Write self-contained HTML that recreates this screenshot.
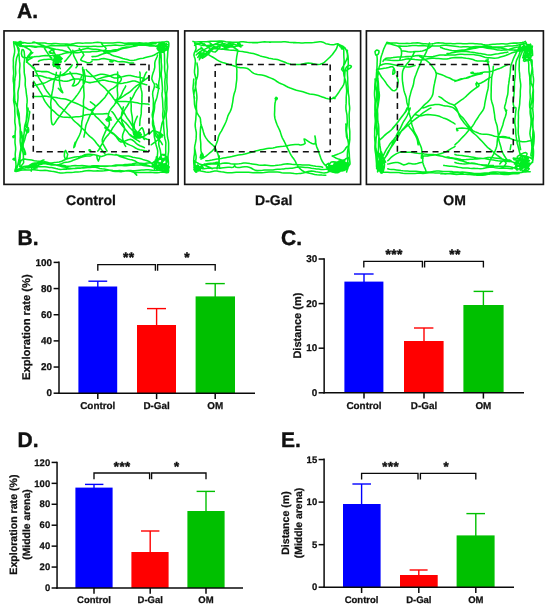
<!DOCTYPE html>
<html lang="en">
<head>
<meta charset="utf-8">
<title>Open field test figure</title>
<style>
html,body{margin:0;padding:0;background:#fff;}
body{width:550px;height:609px;overflow:hidden;}
svg{display:block;}
svg text{font-family:"Liberation Sans", sans-serif;font-weight:bold;fill:#111;stroke:#111;stroke-width:0.25px;text-rendering:geometricPrecision;}
</style>
</head>
<body>
<svg width="550" height="609" viewBox="0 0 550 609">
<rect x="0" y="0" width="550" height="609" fill="#ffffff"/>
<g id="panelA">
<path d="M13.6,41.9 L15.4,42.1 L18.0,42.4 L20.7,42.5 L22.8,42.6 L25.0,42.8 L27.3,43.2 L29.5,43.3 L31.7,43.1 L33.9,42.8 L36.1,42.8 L38.3,42.9 L40.5,42.9 L42.7,42.9 L44.9,43.1 L47.1,43.5 L49.3,43.8 L51.5,43.8 L53.7,43.6 L55.9,43.5 L58.1,43.7 L60.3,43.9 L62.5,44.0 L64.7,44.1 L66.9,44.1 L69.1,44.2 L71.3,44.1 L73.5,43.7 L75.6,43.3 L77.8,43.0 L80.0,43.1 L82.3,43.2 L84.5,43.1 L86.7,42.9 L88.9,42.9 L91.1,42.9 L93.2,42.8 L95.4,42.5 L97.6,42.3 L99.8,42.5 L102.0,42.8 L104.2,43.0 L106.4,43.0 L108.6,42.9 L110.8,42.9 L113.0,42.9 L115.2,42.7 L117.4,42.5 L119.6,42.5 L121.8,42.8 L124.0,43.2 L126.2,43.2 L128.4,43.0 L130.6,42.9 L132.8,42.9 L135.0,42.9 L137.2,42.9 L139.4,42.8 L141.6,43.0 L143.8,43.3 L146.0,43.4 L148.2,43.2 L150.4,42.8 L152.6,42.5 L154.8,42.5 L157.1,42.4 L159.3,42.2 L161.4,42.1 L164.2,41.9 L166.8,41.6 L168.3,41.8 L168.9,43.3 L168.8,46.0 L168.2,48.8 L167.9,50.9 L167.7,53.2 L167.6,55.5 L167.4,57.8 L167.1,60.0 L167.2,62.2 L167.5,64.5 L167.7,66.7 L167.5,69.0 L167.2,71.2 L167.0,73.5 L167.0,75.7 L167.0,77.9 L166.9,80.2 L166.9,82.4 L167.1,84.7 L167.3,86.9 L167.3,89.2 L166.9,91.4 L166.6,93.6 L166.6,95.9 L166.8,98.1 L166.8,100.4 L166.8,102.6 L166.8,104.9 L166.9,107.1 L166.9,109.4 L166.6,111.6 L166.2,113.8 L166.1,116.1 L166.3,118.3 L166.5,120.6 L166.6,122.8 L166.7,125.0 L166.9,127.3 L167.2,129.5 L167.3,131.8 L167.2,134.0 L167.4,136.3 L167.8,138.5 L168.3,140.7 L168.6,143.0 L168.6,145.2 L168.6,147.5 L168.6,149.7 L168.5,152.0 L168.2,154.2 L168.0,156.4 L168.1,158.7 L168.3,161.1 L168.5,163.3 L168.3,165.4 L168.3,168.2 L168.7,170.7 L168.3,172.4 L166.6,172.8 L164.2,172.2 L161.4,172.0 L159.3,172.4 L157.1,172.7 L154.9,172.7 L152.6,172.4 L150.4,172.3 L148.2,172.4 L146.0,172.6 L143.8,172.5 L141.6,172.5 L139.4,172.5 L137.2,172.6 L135.0,172.4 L132.8,171.9 L130.7,171.3 L128.5,170.9 L126.2,170.9 L124.0,170.9 L121.8,170.7 L119.6,170.6 L117.4,170.7 L115.2,170.7 L113.0,170.6 L110.8,170.3 L108.6,170.2 L106.4,170.4 L104.2,170.7 L102.0,170.9 L99.8,170.9 L97.6,170.8 L95.4,170.9 L93.3,170.9 L91.0,170.7 L88.8,170.6 L86.6,170.7 L84.5,171.1 L82.3,171.6 L80.1,171.8 L77.9,171.9 L75.7,172.1 L73.5,172.3 L71.3,172.4 L69.0,172.4 L66.9,172.4 L64.7,172.7 L62.5,172.9 L60.2,172.9 L58.0,172.5 L55.9,172.0 L53.7,171.6 L51.5,171.3 L49.3,170.9 L47.1,170.5 L44.9,170.3 L42.7,170.4 L40.5,170.4 L38.3,170.3 L36.1,169.9 L33.9,169.7 L31.7,169.7 L29.5,169.9 L27.2,169.9 L24.9,169.8 L22.7,170.0 L20.7,170.3 L18.3,171.0 L16.1,171.5 L14.9,171.3 L15.0,170.2 L15.7,168.0 L16.0,165.4 L15.9,163.4 L15.7,161.1 L15.5,158.8 L15.3,156.5 L15.2,154.2 L15.4,152.0 L15.7,149.7 L15.6,147.5 L15.3,145.2 L15.0,143.0 L15.0,140.7 L15.1,138.5 L15.1,136.3 L15.1,134.0 L15.2,131.8 L15.5,129.5 L15.5,127.3 L15.3,125.0 L14.9,122.8 L14.8,120.6 L14.9,118.3 L15.0,116.1 L14.9,113.8 L14.8,111.6 L14.8,109.3 L14.7,107.1 L14.4,104.8 L13.9,102.6 L13.6,100.4 L13.7,98.1 L13.9,95.9 L14.0,93.6 L13.9,91.4 L13.8,89.2 L13.8,86.9 L13.8,84.7 L13.5,82.4 L13.2,80.2 L13.2,77.9 L13.5,75.7 L13.7,73.5 L13.6,71.2 L13.4,69.0 L13.3,66.7 L13.4,64.5 L13.4,62.2 L13.3,60.0 L13.5,57.7 L14.0,55.5 L14.5,53.2 L14.7,50.9 L14.6,48.8 L14.1,46.1 L13.8,43.7 L13.6,41.9 M15.1,43.6 L16.5,44.1 L18.5,45.0 L20.7,45.9 L22.6,46.4 L24.9,46.6 L27.2,46.4 L29.5,46.1 L31.7,46.0 L33.9,46.2 L36.1,46.4 L38.3,46.5 L40.5,46.5 L42.7,46.5 L44.9,46.6 L47.1,46.5 L49.3,46.0 L51.5,45.6 L53.7,45.6 L55.9,45.7 L58.1,45.8 L60.3,45.8 L62.5,45.7 L64.7,45.7 L66.9,45.8 L69.1,45.6 L71.3,45.4 L73.5,45.4 L75.7,45.8 L77.8,46.3 L80.0,46.5 L82.2,46.5 L84.5,46.5 L86.7,46.6 L88.9,46.6 L91.0,46.4 L93.2,46.2 L95.4,46.3 L97.7,46.5 L99.9,46.6 L102.1,46.4 L104.2,46.0 L106.4,45.7 L108.6,45.5 L110.8,45.4 L113.0,45.2 L115.2,45.1 L117.4,45.3 L119.6,45.5 L121.8,45.5 L124.0,45.2 L126.2,44.8 L128.4,44.6 L130.6,44.6 L132.8,44.5 L135.0,44.3 L137.2,44.2 L139.4,44.3 L141.6,44.4 L143.8,44.3 L146.0,44.2 L148.3,44.2 L150.5,44.7 L152.6,45.3 L154.9,46.0 L157.3,46.7 L159.5,47.5 L161.5,47.8 L164.1,46.3 L165.1,45.1 L163.7,46.4 L161.5,48.9 L161.0,50.7 L160.9,53.0 L161.1,55.4 L161.2,57.8 L161.2,60.0 L161.2,62.2 L161.5,64.5 L161.7,66.7 L161.6,69.0 L161.4,71.2 L161.2,73.5 L161.3,75.7 L161.6,77.9 L161.8,80.2 L162.0,82.4 L162.2,84.7 L162.4,86.9 L162.5,89.1 L162.3,91.4 L162.0,93.7 L162.0,95.9 L162.4,98.1 L162.6,100.4 L162.7,102.6 L162.8,104.9 L162.9,107.1 L163.1,109.3 L163.0,111.6 L162.7,113.8 L162.7,116.1 L163.0,118.3 L163.4,120.5 L163.6,122.8 L163.6,125.0 L163.7,127.3 L163.9,129.5 L164.1,131.8 L164.3,134.0 L164.5,136.3 L164.9,138.5 L165.5,140.7 L165.9,143.0 L165.8,145.2 L165.7,147.5 L165.7,149.7 L165.8,152.0 L165.7,154.2 L165.7,156.4 L165.8,158.8 L166.1,161.1 L166.4,163.3 L166.4,165.4 L166.7,168.0 L167.4,170.3 L167.4,171.5 L166.2,171.6 L164.0,170.9 L161.4,170.2 L159.4,170.2 L157.2,170.4 L154.9,170.5 L152.6,170.3 L150.4,169.9 L148.2,169.7 L146.0,169.8 L143.8,170.0 L141.6,170.1 L139.4,170.2 L137.2,170.4 L135.0,170.7 L132.8,170.7 L130.6,170.6 L128.4,170.5 L126.2,170.8 L124.0,171.2 L121.8,171.6 L119.6,171.6 L117.4,171.5 L115.2,171.4 L113.0,171.2 L110.8,170.6 L108.7,170.0 L106.5,169.4 L104.3,169.1 L102.0,168.8 L99.8,168.4 L97.6,167.8 L95.4,167.3 L93.2,167.1 L91.1,166.9 L88.8,166.7 L86.6,166.8 L84.4,167.2 L82.3,167.7 L80.1,168.2 L77.9,168.3 L75.7,168.4 L73.4,168.5 L71.3,168.8 L69.1,169.0 L66.9,169.1 L64.7,169.1 L62.5,169.3 L60.2,169.4 L58.0,169.1 L55.9,168.6 L53.7,168.0 L51.5,167.6 L49.3,167.4 L47.1,167.1 L44.9,166.8 L42.7,166.7 L40.5,166.7 L38.3,166.7 L36.1,166.6 L33.9,166.4 L31.6,166.5 L29.5,167.0 L27.2,167.5 L24.9,167.9 L22.7,168.2 L20.7,168.7 L18.4,169.9 L16.2,170.9 L15.1,171.1 L15.6,170.1 L17.0,168.1 L17.8,165.4 L18.1,163.4 L18.6,161.1 L19.1,158.7 L19.5,156.4 L19.8,154.2 L20.2,152.0 L20.7,149.7 L20.9,147.5 L20.6,145.2 L20.3,143.0 L20.1,140.8 L20.2,138.5 L20.3,136.3 L20.2,134.0 L20.1,131.8 L20.2,129.5 L20.2,127.3 L20.1,125.0 L19.7,122.8 L19.4,120.6 L19.4,118.3 L19.3,116.1 L19.1,113.8 L18.5,111.6 L17.9,109.3 L17.2,107.1 L16.4,104.8 L15.5,102.7 L14.9,100.4 L14.7,98.2 L14.7,95.9 L14.6,93.6 L14.4,91.4 L14.4,89.2 L14.5,86.9 L14.6,84.7 L14.6,82.4 L14.7,80.2 L15.0,77.9 L15.5,75.7 L15.8,73.5 L15.7,71.2 L15.5,69.0 L15.5,66.7 L15.8,64.5 L16.0,62.2 L16.3,60.0 L16.7,57.7 L17.6,55.5 L18.6,53.1 L19.1,50.8 L19.0,48.8 L17.8,46.7 L16.2,44.9 L15.1,43.6 M15.0,43.5 L16.5,44.2 L18.9,44.9 L21.7,45.5 L23.5,45.8 L25.6,45.9 L27.9,46.0 L30.1,46.3 L32.3,46.8 L34.4,47.1 L36.6,47.1 L38.7,46.8 L40.9,46.8 L43.0,47.0 L45.1,47.2 L47.3,47.4 L49.4,47.7 L51.5,48.2 L53.6,48.8 L55.7,49.3 L57.9,49.6 L60.1,49.9 L62.3,50.3 L64.4,50.9 L66.5,51.5 L68.6,51.9 L70.8,52.2 L72.9,52.5 L75.0,52.8 L77.2,52.8 L79.3,52.4 L81.4,52.0 L83.6,51.9 L85.7,52.0 L87.9,52.0 L90.0,51.9 L92.1,51.6 L94.3,51.5 L96.4,51.4 L98.5,51.2 L100.7,50.8 L102.8,50.6 L104.9,50.6 L107.1,50.8 L109.2,50.8 L111.4,50.5 L113.5,50.1 L115.6,49.7 L117.8,49.4 L119.9,48.8 L121.9,48.1 L124.1,47.4 L126.3,47.1 L128.5,47.0 L130.6,46.7 L132.7,46.2 L134.8,45.6 L137.0,45.3 L139.1,45.2 L141.2,45.1 L143.4,45.1 L145.5,45.2 L147.6,45.6 L149.8,45.9 L152.0,46.1 L154.3,45.9 L156.6,45.9 L158.6,46.0 L160.4,46.0 L163.0,45.2 L165.1,44.0 L166.3,43.8 L165.9,45.1 L164.6,47.1 L163.8,50.0 L164.0,52.0 L164.4,54.2 L164.5,56.6 L164.5,59.1 L164.6,61.4 L164.7,63.7 L164.6,66.0 L164.6,68.3 L164.7,70.6 L165.1,72.8 L165.4,75.1 L165.3,77.4 L165.0,79.7 L164.8,82.0 L164.9,84.3 L165.0,86.5 L165.0,88.8 L165.0,91.1 L165.3,93.4 L165.6,95.7 L165.5,98.0 L165.3,100.3 L165.1,102.5 L165.1,104.8 L165.2,107.1 L165.1,109.4 L164.8,111.7 L164.6,114.0 L164.4,116.3 L163.9,118.6 L163.0,120.8 L162.1,123.0 L161.6,125.3 L161.2,127.7 L160.8,130.0 L160.3,132.2 L159.9,134.5 L159.6,136.8 L159.2,139.1 L158.9,141.4 L158.7,143.7 L159.0,146.0 L159.7,148.2 L160.3,150.4 L160.6,152.7 L160.9,155.1 L161.3,157.6 L161.8,160.0 L162.1,162.3 L162.6,164.3 L164.4,167.1 L166.3,169.2 L166.8,170.9 L165.3,170.5 L163.2,168.8 L160.5,167.4 L158.6,167.0 L156.5,166.6 L154.3,166.3 L152.0,166.1 L149.8,166.2 L147.6,166.1 L145.5,165.8 L143.4,165.4 L141.3,165.0 L139.1,164.9 L137.0,165.0 L134.8,165.1 L132.7,165.1 L130.6,165.3 L128.4,165.6 L126.3,165.8 L124.2,165.8 L122.0,165.5 L119.9,165.4 L117.7,165.6 L115.6,165.9 L113.5,166.0 L111.3,166.0 L109.2,166.1 L107.1,166.3 L104.9,166.4 L102.8,166.3 L100.6,166.1 L98.5,166.1 L96.4,166.5 L94.3,167.0 L92.1,167.3 L90.0,167.4 L87.9,167.6 L85.7,167.8 L83.6,168.0 L81.4,168.0 L79.3,167.9 L77.2,167.9 L75.0,168.2 L72.9,168.4 L70.7,168.3 L68.6,167.9 L66.5,167.4 L64.4,167.1 L62.2,166.7 L60.1,166.1 L58.0,165.4 L55.8,165.1 L53.6,165.0 L51.5,164.9 L49.4,164.5 L47.3,163.9 L45.1,163.6 L43.0,163.5 L40.9,163.7 L38.7,163.8 L36.6,164.1 L34.5,164.6 L32.4,165.3 L30.2,165.8 L27.9,166.0 L25.5,166.2 L23.4,166.6 L21.6,167.3 L18.9,168.9 L16.6,170.4 L15.3,170.9 L15.6,169.5 L16.9,167.0 L18.5,164.2 L19.3,162.3 L19.9,160.0 L20.1,157.6 L20.2,155.1 L20.5,152.8 L20.9,150.5 L21.1,148.2 L21.3,145.9 L21.7,143.6 L22.1,141.4 L22.1,139.1 L21.6,136.8 L21.1,134.5 L20.7,132.3 L20.5,130.0 L20.2,127.7 L19.7,125.4 L19.3,123.1 L19.1,120.7 L18.8,118.5 L18.2,116.2 L17.5,114.0 L17.3,111.7 L17.3,109.4 L17.3,107.1 L17.4,104.8 L17.5,102.5 L17.8,100.3 L18.0,98.0 L18.0,95.7 L17.9,93.4 L18.1,91.1 L18.6,88.8 L19.2,86.6 L19.4,84.3 L19.5,82.0 L19.7,79.7 L19.8,77.4 L19.8,75.1 L19.6,72.8 L19.5,70.6 L19.7,68.3 L19.9,66.0 L19.9,63.7 L19.5,61.4 L19.3,59.1 L19.2,56.6 L19.0,54.2 L18.7,52.0 L18.3,50.1 L17.5,47.2 L16.4,44.8 L15.0,43.5 M22.1,49.6 L21.7,51.2 L21.4,53.7 L22.0,56.1 L23.3,57.5 L24.7,57.7 L26.7,57.7 L29.1,57.6 L31.7,57.1 L34.3,56.7 L36.7,56.6 L39.0,56.5 L41.2,56.1 L43.5,55.7 L45.7,55.6 L48.0,55.7 L50.3,55.8 L52.6,55.6 L54.8,55.3 L57.1,55.0 L59.4,54.7 L61.6,54.2 L63.8,53.5 L65.7,53.0 L67.7,52.7 L69.7,52.5 L71.7,52.1 L73.6,51.6 L75.5,50.9 L77.5,50.4 L79.7,50.0 L82.0,49.5 L84.2,48.9 L86.5,48.5 L88.8,48.6 L91.0,48.9 L93.3,49.2 L95.6,49.3 L97.9,49.5 L100.1,50.1 L102.4,50.8 L104.7,51.4 L106.7,52.1 L108.5,53.0 L110.4,54.2 L112.2,55.2 L114.3,55.9 L116.3,56.4 L118.3,56.9 L120.6,57.7 L122.8,58.5 L125.0,59.1 L127.3,59.6 L129.5,60.2 L131.8,60.5 L134.1,60.3 L136.3,59.7 L138.5,59.0 L140.8,58.6 L143.2,58.2 L145.4,57.6 L147.4,57.1 L149.6,56.5 L151.7,56.0 L153.8,55.2 L155.7,54.2 L157.3,53.2 L158.8,52.4 L161.1,50.7 L163.0,48.7 L164.1,46.7 L164.5,45.6 L163.4,46.2 L161.4,48.3 L159.9,51.3 L159.8,53.1 L159.8,55.3 L159.6,57.7 L159.3,60.3 L159.3,62.8 L159.5,65.2 L159.6,67.6 L159.6,69.9 L159.7,72.2 L159.8,74.5 L159.8,76.9 L159.4,79.2 L159.0,81.2 L158.7,83.1 L158.7,85.1 L158.7,87.2 L158.5,89.2 L158.2,91.2 L157.8,93.2 L157.4,95.2 L157.0,97.2 L156.4,99.1 L155.6,101.1 L155.0,103.0 L154.6,105.1 L154.6,107.1 L154.4,109.1 L154.1,111.1 L153.6,113.1 L153.2,115.1 L153.0,117.1 L152.8,119.1 L152.6,121.1 L152.5,123.1 L152.6,125.1 L153.1,127.0 L153.7,129.0 L154.0,131.0 L154.1,133.0 L154.2,135.0 L154.4,137.0 L154.9,139.0 L155.3,141.0 L155.7,143.0 L156.1,145.0 L156.7,147.0 L157.3,148.9 L157.7,151.0 L157.6,153.2 L157.4,155.4 L157.4,157.6 L157.7,159.6 L158.0,161.4 L158.5,162.9 L160.3,165.6 L162.7,167.1 L163.5,167.6 L162.9,166.9 L161.5,164.6 L159.1,162.6 L157.3,162.3 L155.1,162.4 L152.8,162.7 L150.3,162.9 L147.8,163.0 L145.4,163.3 L143.2,163.4 L140.9,163.2 L138.6,163.0 L136.3,163.1 L134.1,163.5 L131.8,164.0 L129.6,164.2 L127.3,164.4 L125.0,164.6 L122.8,164.9 L120.5,165.0 L118.2,164.9 L115.9,165.0 L113.7,165.4 L111.5,165.9 L109.2,166.1 L106.9,166.0 L104.6,165.9 L102.4,165.9 L100.1,165.9 L97.8,165.8 L95.6,165.7 L93.3,165.8 L91.0,166.1 L88.8,166.3 L86.5,166.0 L84.3,165.7 L82.0,165.6 L79.7,165.7 L77.5,165.7 L75.2,165.6 L72.9,165.8 L70.7,166.1 L68.4,166.3 L66.1,166.1 L63.9,165.6 L61.6,165.3 L59.4,165.1 L57.1,165.1 L54.8,164.8 L52.5,164.5 L50.2,164.2 L47.9,163.9 L45.7,163.3 L43.5,162.4 L41.3,161.6 L39.0,161.2 L36.7,161.0 L34.3,160.7 L31.8,160.1 L29.2,159.7 L26.9,159.4 L24.8,159.1 L23.0,159.1 L21.0,160.6 L20.0,163.1 L19.8,165.4 L19.6,166.4 L21.2,166.0 L23.6,162.9 L23.6,161.5 L23.5,159.7 L23.4,157.6 L23.4,155.4 L23.1,153.2 L22.6,151.0 L22.2,149.0 L22.1,147.0 L22.4,145.0 L22.8,143.0 L23.0,141.0 L23.3,139.0 L23.5,137.0 L23.9,135.0 L24.2,133.1 L24.3,131.0 L24.4,129.0 L24.6,127.0 L25.0,125.0 L25.6,123.1 L26.1,121.1 L26.4,119.1 L26.5,117.1 L26.7,115.1 L26.9,113.1 L27.0,111.1 L26.9,109.1 L26.8,107.1 L26.8,104.8 L27.1,102.4 L27.2,100.1 L27.0,97.8 L26.6,95.5 L26.3,93.1 L26.1,91.2 L25.9,89.2 L25.5,87.2 L25.2,85.2 L25.2,83.2 L25.3,81.2 L25.3,79.2 L25.0,76.8 L24.5,74.5 L24.2,72.2 L24.2,69.9 L24.1,67.6 L24.0,65.2 L24.1,62.8 L24.5,60.1 L24.7,57.5 L24.5,55.0 L24.3,52.9 L24.1,51.4 L23.2,49.7 L22.1,49.6 M20.3,42.3 L20.5,44.5 L20.8,46.4 L21.0,45.1 L21.3,43.3 L23.0,42.9 L23.8,42.9 L21.7,42.7 L18.5,42.5 L16.6,42.5 L17.7,43.4 L20.0,44.2 L21.2,44.0 L21.6,43.4 L20.0,42.8 L18.5,42.2 L19.7,41.6 L21.0,41.6 L19.9,43.4 L18.6,45.1 L18.6,44.1 L18.9,43.0 L19.4,44.4 L19.7,46.2 M14.6,79.7 L14.1,80.9 L13.7,82.0 L13.8,81.5 L14.0,80.8 L13.9,81.1 L13.8,81.6 L14.2,81.2 L14.5,80.8 L13.8,81.1 L13.2,81.4 L13.7,81.5 L14.5,81.2 L14.8,80.5 L15.0,79.7 M32.8,42.2 L34.4,42.1 L36.4,43.0 L38.8,44.1 L41.3,44.9 L43.6,45.6 L45.5,46.4 L48.2,47.6 L50.3,48.6 L52.4,49.8 L54.2,52.2 L55.4,55.0 L56.8,56.6 M24.8,47.0 L26.9,48.1 L29.8,49.7 L31.3,51.8 L29.7,54.0 L27.7,56.4 L26.8,59.1 L26.6,61.3 L28.2,63.4 L30.5,65.2 L32.4,67.1 L33.6,68.6 M32.8,52.6 L31.1,53.8 L29.3,56.0 L28.0,58.2 L27.0,60.7 L26.5,62.2 L26.6,61.8 L27.9,60.5 L29.8,59.0 L32.5,57.6 L34.4,56.6 M38.4,61.4 L39.7,60.5 L41.9,59.9 L44.1,59.5 L46.0,59.4 L48.4,59.2 L50.5,59.3 L52.0,59.8 M58.4,61.9 L56.6,60.1 L55.0,58.2 L55.7,57.5 L57.2,57.9 L58.7,60.1 L59.2,62.2 L57.1,62.0 L54.2,61.2 L52.9,60.3 L54.3,59.9 L57.2,59.4 L60.1,58.9 L61.6,58.3 L60.5,57.2 L57.7,56.1 L56.1,55.7 L57.2,56.9 L59.4,58.8 L60.5,59.9 L59.2,58.8 L56.8,56.7 L55.4,55.5 L57.5,57.0 L60.2,58.6 L60.2,56.9 L58.9,55.3 L57.2,56.1 L55.0,57.7 L53.5,59.5 L53.3,62.0 L53.8,64.7 L54.4,66.2 L55.5,64.2 L56.3,60.8 L54.8,58.2 L53.9,56.3 L56.2,56.1 L59.5,56.5 L61.2,57.7 L60.5,59.2 L58.9,61.4 L56.9,63.7 L55.0,65.6 L53.8,66.5 L53.3,65.1 L53.5,62.0 L54.3,59.7 L56.4,59.6 L58.5,60.3 L58.5,60.7 L57.6,60.9 L55.7,59.4 L54.4,59.0 L54.8,60.5 L55.8,62.8 L57.0,65.3 L57.9,67.5 L58.2,68.6 L57.3,68.0 L55.4,66.2 L53.7,63.9 L53.1,62.3 L54.8,61.2 L57.8,60.5 L60.2,60.3 L61.2,61.5 L60.8,62.5 L58.4,60.3 L56.5,59.1 L56.8,60.5 L57.8,62.9 L59.0,65.6 L59.9,67.8 L60.3,68.6 L59.7,67.6 L58.5,65.2 L57.2,62.3 L56.0,59.6 L55.5,57.9 L57.8,58.0 L60.2,59.4 L58.7,59.1 L56.3,59.2 L54.7,61.2 L53.1,63.9 L52.9,65.1 L54.2,64.4 L56.6,62.7 L59.1,60.7 L61.3,59.1 L62.2,58.5 L61.6,59.2 L59.9,60.9 L57.7,62.9 L55.7,64.8 L54.3,66.1 M51.5,52.9 L50.0,52.5 L49.1,51.9 L51.2,50.6 L53.6,49.6 L53.9,50.1 L53.6,51.3 L53.4,52.6 L53.0,53.7 L52.5,53.6 L51.8,53.3 L50.7,53.2 L49.8,53.1 L49.9,52.5 L50.2,51.9 M72.8,50.2 L73.2,51.9 L73.4,54.3 L74.2,56.7 L75.4,58.9 L76.6,61.1 L77.5,63.0 L77.4,65.9 L76.0,67.8 M44.0,47.0 L44.7,48.8 L46.2,51.0 L47.6,53.1 L49.0,55.2 L50.4,57.3 L52.0,58.2 M92.0,56.6 L93.4,56.6 L95.4,56.5 L97.7,56.0 L100.0,55.0 L101.9,54.2 L104.1,53.6 L106.4,53.0 L108.8,52.3 L111.2,51.7 L113.3,51.5 L115.5,51.2 L117.6,50.6 L119.7,49.6 L121.7,48.7 L123.9,48.2 L126.1,47.9 L128.3,47.5 L130.5,47.0 L132.7,46.5 L134.8,46.2 L136.9,45.8 L139.2,44.8 L141.4,43.8 L143.7,43.2 L146.0,43.1 L148.0,43.2 L150.4,43.2 L152.7,43.4 L154.6,43.8 L156.0,43.8 M92.0,59.8 L93.7,59.7 L96.2,59.8 L99.0,59.5 L101.6,58.8 L103.9,58.6 L106.2,58.9 L108.6,59.4 L111.2,59.9 L113.2,60.2 L115.3,60.8 L117.5,61.4 L119.8,61.7 L122.1,61.6 L124.1,61.7 L126.9,62.2 L129.6,62.9 L131.9,63.1 L133.6,63.0 M68.0,47.0 L69.3,48.6 L71.0,50.9 L71.4,53.4 L69.7,55.8 L67.8,58.0 L66.2,60.1 L64.8,61.4 M79.2,48.6 L80.7,50.3 L82.7,52.8 L83.9,55.0 L82.0,57.4 L80.6,59.8 L82.4,61.0 L85.0,61.8 L87.2,62.7 L90.1,62.6 L92.0,61.4 M165.2,50.6 L167.0,49.5 L168.2,48.6 L165.3,49.1 L162.6,49.8 L165.2,49.5 L167.3,49.1 L165.6,49.2 L162.6,49.4 L159.6,49.6 L157.6,49.2 L157.3,46.3 L159.2,43.8 L161.1,43.8 L163.7,44.6 L166.1,45.6 L167.5,46.6 L167.1,48.4 L165.3,50.3 L163.8,51.4 L163.4,50.1 L162.7,48.3 L159.4,48.2 L157.1,48.6 L158.8,49.1 L162.0,49.8 L163.8,50.4 L162.2,51.3 L159.4,51.5 L157.8,49.7 L157.4,47.3 L159.8,45.7 L162.5,44.4 L163.3,42.9 L164.0,42.8 L165.0,44.4 L166.3,46.9 L167.4,49.3 L167.7,50.5 L166.4,49.6 L164.1,47.3 L162.0,45.9 L158.9,47.4 L157.6,49.0 L159.1,48.7 L161.9,47.7 L164.6,46.7 L165.7,46.0 L164.3,45.8 L161.4,45.8 L158.4,45.9 L156.9,45.7 L158.7,44.6 L162.2,43.1 L164.2,42.7 L163.2,43.7 L160.8,45.4 L158.5,47.3 L157.4,48.8 L158.8,50.6 L161.7,52.1 L163.9,52.2 L164.6,50.7 L164.8,48.2 L164.7,45.5 L164.5,43.8 L162.8,44.1 L161.8,45.3 L164.5,45.1 L167.5,44.6 M157.6,55.0 L157.2,56.5 L156.3,58.5 L155.3,60.7 L154.8,62.9 L154.8,65.0 L154.8,67.1 L154.4,69.1 L153.8,71.0 L153.0,73.1 L152.4,75.2 L152.0,77.2 L151.8,79.0 L152.9,81.6 L154.3,83.8 L154.5,85.6 L154.2,87.6 L153.5,89.7 L152.8,91.8 L152.6,94.2 L152.9,96.7 L153.3,99.2 L153.4,101.4 L153.3,103.7 L153.3,105.7 L153.3,108.0 L153.1,110.1 L152.6,112.4 L152.2,114.9 L152.5,117.4 L153.0,119.6 L153.4,122.0 L153.7,124.4 L154.3,126.6 L154.8,128.5 L155.1,131.1 L155.2,133.2 L155.5,135.2 L157.2,137.7 L159.3,139.7 L161.2,142.4 L162.4,144.6 M156.0,83.8 L158.0,86.2 L159.2,88.6 L157.9,87.8 L156.0,87.0 M112.7,60.3 L111.9,60.9 L110.9,61.5 L110.2,61.7 L109.9,61.5 L110.5,60.7 L111.3,60.0 L112.2,60.5 L112.9,61.3 L113.0,61.6 L112.8,61.6 L112.3,61.9 L111.7,61.9 L111.5,61.2 L111.4,60.5 M101.6,43.8 L103.0,45.2 L105.1,47.1 L106.2,48.6 L104.9,50.5 L103.6,51.7 L105.5,52.4 L108.0,53.4 M28.0,108.0 L28.2,109.7 L27.6,112.2 L27.3,115.0 L27.1,117.6 L26.5,120.2 L26.0,122.9 L26.0,125.5 L26.1,127.0 L26.8,127.4 L28.3,127.7 L28.7,130.0 L28.5,131.9 L27.6,132.6 L26.6,132.6 L26.0,130.8 L25.6,128.8 M29.6,111.2 L29.7,112.6 L29.3,114.5 L29.0,116.8 L28.6,119.3 L28.1,121.7 L27.6,123.9 L27.4,126.1 L27.5,128.4 L27.4,130.7 L26.8,132.8 L26.0,134.8 L25.4,136.8 L24.8,139.4 L24.0,141.8 L23.2,144.1 L23.1,146.4 L23.7,148.8 L24.4,151.2 L24.7,153.3 L24.8,154.4 L24.8,152.4 L24.0,149.6 M21.6,132.0 L21.8,133.4 L22.0,135.5 L22.5,137.8 L22.8,139.9 L22.8,142.0 L22.8,144.2 L23.0,146.2 L23.7,148.1 L24.7,150.5 L25.4,152.7 L25.6,154.4 M14.4,137.1 L13.8,137.0 L13.2,136.7 L13.5,136.2 L13.8,135.8 L13.3,136.2 L12.8,136.6 L13.0,136.6 L13.3,136.5 L13.1,137.1 L13.1,137.6 L13.7,137.1 L14.4,136.5 L14.6,136.0 L14.7,135.8 M13.0,159.1 L13.7,159.6 L14.2,160.1 L13.5,159.7 L12.9,159.2 L14.1,159.3 L15.2,159.4 L14.2,159.3 L13.1,159.1 L13.6,158.6 L14.2,158.3 L13.5,158.7 L12.9,159.3 L13.7,159.5 L14.8,159.6 M26.4,167.2 L28.0,166.5 L30.1,165.0 L32.6,163.5 L34.9,162.9 L37.4,162.7 L40.0,162.4 L42.4,161.9 L44.8,161.8 L47.2,162.3 L49.6,162.9 L52.0,162.9 L54.3,162.5 L56.7,162.3 L59.2,162.0 L61.7,161.2 L63.8,160.2 L65.9,159.3 L68.2,158.6 L70.5,158.1 L72.8,157.4 L75.1,156.9 L77.5,156.7 L79.9,156.5 L82.0,155.9 L84.0,155.1 L86.1,154.4 L88.1,154.2 L90.0,154.2 L92.0,154.4 L94.3,154.7 L96.7,155.3 L99.1,156.1 L101.6,156.4 L103.9,155.8 L106.1,154.8 L108.5,154.2 L111.2,154.4 L113.1,154.7 L115.2,154.9 L117.4,155.1 L119.6,155.6 L121.8,156.0 L124.0,156.0 L126.2,155.9 L128.4,155.9 L130.6,156.5 L132.7,157.2 L134.8,157.6 L136.7,157.9 L138.9,158.2 L140.9,158.7 L142.7,159.4 L144.6,160.0 L146.5,160.5 L148.6,161.2 L150.5,162.5 L152.2,163.9 L154.0,165.1 L155.8,165.9 L158.0,166.9 L159.9,168.2 L161.4,169.4 L162.4,170.4 M28.0,168.0 L29.4,167.7 L31.4,167.0 L33.7,166.4 L36.1,165.9 L38.3,165.4 L40.6,164.4 L43.0,163.7 L45.6,163.7 L47.8,164.2 L50.0,164.6 L52.3,164.8 L54.6,164.9 L56.8,165.0 L59.3,164.5 L61.6,163.6 L63.9,162.6 L66.3,162.2 L68.4,162.0 L70.3,161.6 L72.2,160.8 L74.0,159.9 L76.0,159.2 L78.2,158.5 L80.6,157.6 L83.0,156.7 L85.3,156.2 L87.2,156.1 L90.4,155.9 L92.0,155.2 M31.2,171.2 L31.7,168.5 L32.3,165.3 L34.0,163.9 L36.0,163.2 L38.6,162.3 L40.9,161.1 L42.7,160.3 L44.0,160.0 M31.0,167.5 L32.8,166.7 L35.2,165.7 L36.7,165.2 L35.7,166.4 L33.7,167.5 L32.0,166.0 L31.4,164.5 L32.9,165.5 L35.3,167.2 L36.9,168.2 L37.0,167.5 L36.2,166.6 L35.6,167.6 L34.9,168.8 L34.0,168.5 L33.3,167.9 M64.8,151.2 L64.5,153.4 L64.3,156.0 L64.9,158.1 L65.6,159.2 L67.0,157.4 L67.7,154.4 L66.5,152.1 L65.6,150.4 M90.3,150.0 L89.9,150.1 L89.6,150.4 L90.2,150.9 L90.8,151.3 L90.2,151.0 L89.5,150.7 L89.3,150.8 L89.4,150.9 L90.2,151.0 L90.8,150.9 L90.3,150.2 L89.5,149.7 L89.2,149.8 L88.9,150.2 M156.5,133.1 L158.0,136.0 L159.6,138.2 L160.2,136.6 L160.5,133.7 L160.5,132.1 L159.3,134.3 L158.3,137.0 L159.3,136.0 L160.8,134.4 L162.1,134.5 L162.8,135.2 L161.9,136.1 L160.5,136.5 L159.3,134.8 L158.9,133.4 L160.8,135.1 L162.1,137.0 L159.3,137.1 L156.2,136.7 M149.6,133.6 L151.1,132.1 L152.8,130.5 L155.1,130.9 L157.6,132.0 L160.6,133.3 L162.4,135.2 M151.2,144.8 L153.2,143.4 L155.9,141.5 L157.8,139.9 L159.8,138.4 L160.8,136.8 M96.8,156.0 L97.3,158.8 L98.4,161.1 L99.3,158.7 L100.0,156.0 M116.0,154.4 L117.4,155.1 L119.2,156.2 L121.6,157.0 L124.0,157.7 L125.8,158.3 L127.7,158.9 L129.7,159.4 L131.8,159.8 L133.7,160.4 L135.6,161.3 L137.3,162.4 L139.2,163.2 L141.2,163.7 L143.2,164.0 L145.3,164.5 L147.5,165.3 L149.7,166.0 L151.6,166.5 L152.8,167.2 M133.6,172.0 L135.2,173.8 L136.7,175.3 L136.4,174.4 L135.2,173.6 M164.2,163.8 L163.5,164.4 L163.1,165.3 L164.1,166.7 L165.6,167.9 L167.4,168.2 L167.9,168.0 L166.3,167.8 L163.7,167.3 L161.2,167.0 L159.9,166.9 L162.2,167.6 L165.4,168.8 L165.5,170.5 L165.4,171.4 L167.6,169.3 L169.2,166.9 L167.3,167.2 L165.1,167.9 L166.3,167.2 L167.5,166.2 L166.3,165.0 L164.3,164.5 L162.0,166.0 L160.2,167.9 L159.4,168.6 L160.2,168.8 L162.0,168.6 L164.6,168.3 L167.1,168.0 L168.5,167.5 L167.8,166.3 L165.3,165.5 L163.2,166.2 L160.9,167.5 L159.5,168.4 L160.2,168.5 L162.0,168.4 L164.0,169.4 L166.0,170.2 L167.8,169.0 L169.1,167.6 M163.5,155.3 L165.2,155.6 L165.6,157.1 L164.7,158.3 L163.4,159.9 L161.7,161.8 L160.0,163.7 L158.2,165.4 L156.7,166.8 L155.5,167.5 L152.7,166.2 L152.4,163.0 L153.7,162.0 L155.8,160.9 L158.3,159.9 L160.7,159.0 L162.6,158.5 L166.0,158.5 L167.6,158.7 L166.7,156.9 L164.8,154.6 L162.5,154.4 L161.5,155.4 L160.2,157.2 L158.7,159.4 L157.3,161.8 L156.0,164.2 L154.9,166.3 L154.3,167.8 L154.2,168.5 L154.9,168.2 L156.2,167.3 L158.0,165.8 L160.1,164.1 L162.2,162.1 L164.1,160.3 L165.6,158.7 L166.4,157.5 L165.4,154.5 L161.9,154.6 L160.9,155.8 L159.6,157.7 L158.2,160.0 L156.8,162.4 L155.7,164.8 L155.0,166.7 L154.9,167.9 L156.2,168.5 L158.8,168.1 L161.8,167.3 L164.4,166.4 L165.8,165.7 L163.9,164.0 L160.2,163.4 L158.8,165.4 L157.5,168.3 L156.8,169.5 L156.6,167.9 L156.6,165.0 L157.1,161.9 L158.1,159.8 L160.4,159.1 L163.7,158.9 L166.6,159.4 L167.9,160.4 L167.4,161.5 L166.1,163.1 L164.3,164.9 L162.3,166.8 L160.4,168.5 L158.6,169.6 L157.4,170.1 L156.4,169.0 L155.9,166.6 L155.6,163.7 L155.5,161.2 L155.3,160.1 L154.9,161.7 L154.6,165.0 L154.4,168.3 L154.4,169.6 L154.6,168.6 L154.9,166.5 L155.4,163.7 L155.8,160.9 L156.2,158.4 L156.5,156.7 M33.8,67.3 L34.5,68.5 L35.3,70.3 L36.2,72.4 L37.3,74.7 L38.4,76.9 L39.5,79.0 L40.7,80.9 L42.0,82.7 L43.2,84.6 L44.2,86.6 L45.2,88.7 L46.5,90.7 L47.7,92.3 L49.0,94.0 L50.4,95.8 L51.8,97.4 L53.3,99.0 L54.8,100.5 L56.1,102.1 L57.4,104.0 L58.8,105.7 L60.4,107.2 L62.1,108.5 L63.7,110.0 L65.2,111.5 L66.8,113.0 L68.5,114.5 L70.1,116.0 L71.5,117.7 L72.8,119.4 L74.3,121.1 L76.0,122.5 L77.7,123.9 L79.3,125.4 L80.8,127.0 L82.4,128.5 L84.0,130.0 L85.5,131.7 L86.9,133.4 L88.4,135.1 L90.1,136.6 L91.8,137.9 L93.3,139.3 L94.9,141.1 L96.3,142.9 L97.6,144.6 L99.0,146.1 L100.1,147.6 L101.8,150.1 L103.5,152.1 L104.8,153.4 M32.7,96.4 L34.2,96.4 L36.5,96.5 L39.1,96.6 L41.8,96.4 L44.3,96.1 L46.6,96.3 L49.0,96.7 L51.3,97.0 L53.6,97.3 L55.9,97.6 L58.2,98.1 L60.6,98.5 L62.9,98.7 L65.3,99.0 L67.6,99.7 L69.5,100.5 L71.4,101.4 L73.4,102.2 L75.4,103.0 L77.3,103.8 L79.2,104.6 L81.4,105.7 L83.8,106.7 L86.0,108.0 L87.9,109.2 L89.7,109.9 L92.4,109.5 L94.6,107.9 L95.5,106.4 L94.4,104.8 L92.1,103.1 L90.4,101.8 M56.4,72.4 L56.2,73.6 L55.9,75.2 L55.5,77.0 L54.9,79.0 L54.1,81.1 L53.6,83.4 L53.3,85.8 L53.0,88.2 L52.6,90.4 L52.1,92.6 L51.8,94.5 L51.5,96.8 L51.2,99.1 L50.9,101.4 L50.7,103.7 L50.9,105.8 L51.1,108.0 L51.2,110.0 L51.2,111.9 L51.1,113.6 L51.1,116.7 L51.3,119.7 L51.6,122.3 L52.1,124.2 L53.1,124.9 L54.2,124.2 L55.3,122.5 L56.6,120.3 L58.3,118.0 L60.0,115.8 L61.4,113.7 L62.6,112.0 L63.9,110.4 L65.2,108.9 L66.4,107.3 L67.6,105.6 L69.0,103.9 L70.4,102.5 L72.0,101.1 L73.5,99.7 L74.9,98.0 L76.2,96.3 L77.5,94.6 L78.7,92.9 L79.8,91.1 L80.8,89.2 L81.9,87.3 L83.0,85.5 L84.1,83.7 L84.8,81.9 L85.2,80.1 L85.2,77.7 L84.9,75.3 L84.5,73.0 L84.1,71.0 L83.9,69.6 M82.7,67.3 L82.6,68.8 L82.9,70.9 L83.3,73.4 L83.4,76.1 L83.2,78.8 L83.2,81.3 L83.3,83.6 L83.6,85.9 L83.7,88.3 L83.8,90.6 L84.0,92.9 L84.1,95.2 L84.0,97.6 L83.6,99.9 L83.4,102.2 L83.5,104.5 L83.6,106.9 L83.5,109.2 L83.3,111.2 L83.2,113.3 L83.1,115.4 L82.8,117.5 L82.4,119.5 L81.9,121.4 L81.7,123.1 L81.6,125.9 L81.4,128.3 L81.1,130.5 L80.5,132.5 L79.5,135.0 L78.5,137.2 L77.3,139.4 L76.2,141.6 L75.3,144.2 L74.7,146.5 L73.8,147.6 L74.2,145.4 L75.2,142.2 M86.2,69.6 L87.1,70.8 L88.6,72.1 L90.3,73.7 L92.1,75.5 L93.9,77.2 L95.6,78.8 L97.1,80.4 L98.5,82.1 L99.9,83.7 L101.5,85.2 L103.3,86.6 L104.9,88.1 L106.2,89.6 L107.5,91.0 L108.9,92.5 L110.2,93.9 L111.5,95.5 L112.7,97.2 L113.9,98.9 L115.3,100.6 L116.9,102.2 L118.4,104.0 L119.7,105.9 L121.0,107.9 L122.2,109.7 L123.4,111.5 L124.6,113.6 L125.7,115.7 L126.9,117.7 L128.2,119.5 L129.5,121.2 L130.6,123.0 L131.8,125.2 L133.1,127.2 L134.5,129.1 L135.9,130.8 L137.3,132.6 L139.2,134.6 L141.4,136.4 L143.3,138.0 L144.4,139.5 M97.8,151.1 L98.8,150.0 L99.7,148.1 L100.8,146.0 L102.1,143.8 L103.4,141.5 L104.6,139.3 L105.7,137.7 L107.0,136.1 L108.4,134.6 L109.6,133.0 L110.8,131.3 L111.8,129.5 L112.8,127.7 L114.0,126.1 L115.2,124.4 L116.4,122.8 L117.6,121.1 L118.8,119.5 L120.1,117.9 L121.4,116.3 L122.5,114.4 L123.5,112.3 L124.5,110.2 L125.6,108.3 L126.9,106.5 L128.1,104.5 L129.2,102.6 L130.5,100.7 L131.8,98.9 L132.9,96.9 L133.9,94.8 L134.8,92.8 L136.0,90.8 L137.4,88.9 L138.8,87.0 L139.9,85.0 L141.1,83.1 L142.2,81.4 L143.3,79.2 L144.2,76.9 L145.0,74.8 L145.8,73.1 L146.7,72.0 M90.8,110.4 L91.8,111.2 L92.8,112.6 L94.0,114.3 L95.4,116.1 L97.1,117.7 L98.8,119.2 L100.3,120.7 L101.8,122.4 L103.3,124.0 L104.8,125.6 L106.4,127.2 L107.8,128.8 L109.3,130.3 L110.9,131.8 L112.6,133.0 L114.3,134.2 L115.8,135.6 L117.3,137.0 L118.7,138.3 L120.6,139.7 L122.5,140.9 L124.3,142.1 L126.1,143.2 L128.0,144.2 L130.0,145.1 L131.9,145.9 L133.8,146.9 L135.5,148.0 L137.3,148.9 L139.9,149.7 L142.6,150.3 L145.0,150.8 L146.7,151.1 M121.1,118.5 L122.4,119.7 L124.2,121.5 L126.3,123.4 L128.1,125.5 L129.6,127.5 L131.4,129.3 L133.3,130.9 L135.1,132.4 L136.9,133.7 L138.6,135.0 L140.3,136.1 L142.1,137.0 L144.6,138.2 L147.1,139.2 L149.0,139.5 M130.4,97.6 L130.6,98.8 L130.7,100.5 L131.0,102.6 L131.2,104.8 L131.2,107.1 L131.1,109.4 L131.3,111.6 L131.6,113.6 L132.0,115.6 L132.3,117.7 L132.4,119.8 L132.5,121.8 L132.6,123.7 L132.8,125.5 L133.0,128.4 L133.1,131.1 L133.5,133.3 L133.9,134.8 M139.7,72.0 L140.1,73.2 L140.1,74.9 L140.1,77.0 L140.3,79.2 L140.5,81.5 L140.6,83.8 L140.6,85.9 L140.9,87.9 L141.3,89.9 L141.8,91.9 L142.0,93.9 L142.0,95.9 L141.9,97.9 L141.9,99.9 L141.9,101.9 L141.8,103.9 L141.6,106.0 L141.4,108.0 L141.3,110.0 L141.3,112.0 L141.2,113.9 L140.7,116.5 L140.1,119.2 L139.9,121.8 L139.8,123.9 L139.7,125.5 M35.0,70.8 L36.5,71.0 L38.7,71.3 L41.2,71.6 L44.0,71.6 L46.7,71.6 L48.6,72.0 L50.5,72.9 L52.4,73.7 L54.4,74.4 L56.5,74.9 L58.5,75.4 L60.6,75.6 L62.6,75.5 L64.6,74.9 L66.5,74.2 L68.5,73.7 L70.5,73.4 L72.6,73.4 L74.5,73.4 L76.5,73.6 L78.5,73.9 L80.5,74.5 L82.5,75.2 L84.5,75.8 L86.6,76.1 L88.5,76.3 L90.5,76.4 L92.5,76.4 L94.6,76.1 L96.5,75.4 L98.5,74.7 L100.5,74.2 L102.5,74.2 L104.5,74.4 L106.5,74.9 L108.5,75.5 L110.5,76.3 L112.4,77.3 L114.4,77.9 L116.4,78.1 L118.4,77.7 L120.4,77.1 L122.4,76.7 L124.4,76.2 L126.4,75.8 L128.4,75.5 L130.4,75.4 L132.5,75.9 L134.7,76.5 L137.1,76.9 L139.4,77.2 L141.5,77.7 L143.2,78.3 L144.4,78.9 M32.7,85.9 L34.3,85.5 L36.7,85.0 L39.4,84.3 L42.0,83.8 L44.4,83.1 L46.6,82.1 L48.9,80.9 L51.2,79.8 L53.1,79.2 L55.1,78.4 L57.1,77.5 L58.9,76.5 L60.6,75.5 L62.6,74.4 L64.4,73.3 L66.0,72.0 L67.4,70.6 L69.3,68.6 L71.2,66.6 L72.2,65.0 M33.8,81.3 L34.5,82.6 L35.7,84.4 L37.0,86.5 L38.4,88.6 L39.5,90.6 L40.6,92.4 L41.7,94.2 L42.6,96.0 L43.3,98.0 L44.2,100.0 L45.3,101.9 L46.7,103.8 L48.2,105.7 L49.7,107.5 L51.3,109.2 L53.1,110.7 L54.9,112.2 L56.6,113.9 L58.4,115.4 L60.5,116.5 L62.7,117.0 L65.0,117.2 L67.3,117.3 L69.7,117.4 L72.2,117.2 L74.1,117.0 L76.1,116.8 L78.2,116.7 L80.3,116.4 L82.3,115.9 L84.3,115.3 L86.2,114.8 L88.7,114.5 L91.1,114.3 L93.4,114.1 L95.6,113.9 L97.8,113.9 L100.2,114.0 L102.6,114.0 L104.9,113.7 L106.9,113.6 L108.3,113.9 M97.8,78.9 L99.5,78.6 L101.8,77.7 L104.5,77.0 L107.1,76.6 L109.6,76.1 L112.1,75.2 L114.4,74.4 L116.4,74.3 L118.7,75.2 L120.5,76.9 L121.4,78.9 L120.8,80.7 L119.5,82.4 L117.8,84.1 L116.3,85.7 L114.8,87.1 L113.0,88.3 L111.1,89.4 L109.5,90.6 L108.1,92.4 L106.8,94.5 L105.6,96.3 L104.8,97.6 M116.4,101.1 L117.4,100.2 L118.8,99.2 L120.5,98.1 L122.5,96.9 L124.4,95.5 L126.3,94.2 L128.2,93.0 L129.9,91.8 L131.6,90.4 L133.1,88.8 L134.7,87.3 L136.4,85.9 L138.1,84.8 L139.8,83.7 L141.9,82.0 L144.1,80.4 L146.2,78.9 L147.9,77.6 L149.0,76.6 M116.4,101.1 L117.7,101.3 L119.3,101.5 L121.3,101.6 L123.6,101.5 L125.9,101.5 L128.3,101.7 L130.6,101.9 L132.7,102.1 L134.9,102.4 L137.2,102.8 L139.5,103.4 L141.9,103.7 L144.1,103.8 L146.1,103.9 L147.8,104.1 L149.0,104.5 M117.6,72.0 L117.7,73.5 L117.9,75.5 L117.8,78.0 L117.7,80.7 L117.7,83.4 L117.6,85.9 L117.3,88.0 L117.3,90.2 L117.5,92.4 L117.7,94.7 L117.6,96.9 L117.1,99.0 L116.4,101.0 L115.5,103.0 L114.3,104.9 L112.8,106.7 L111.3,108.5 L110.1,110.4 L109.1,112.2 L108.6,113.9 L108.3,116.1 L108.4,118.3 L108.8,120.5 L109.3,122.4 L109.4,124.3 L108.6,126.5 L107.3,128.4 L106.0,130.4 L105.0,132.6 L104.1,134.8 L103.1,137.1 L102.3,139.4 L102.3,141.8 L103.0,143.8 L104.1,145.9 L105.3,148.0 L106.4,149.8 L107.1,151.1 M115.3,100.2 L115.7,101.7 L116.0,102.9 L115.6,102.0 L115.3,100.6 L115.6,100.0 L116.2,99.8 L116.9,100.4 L117.6,101.2 L117.6,101.4 L117.3,101.3 L116.8,100.4 L116.5,99.6 L117.2,99.6 L118.0,99.8 M111.4,120.0 L110.4,119.4 L109.5,118.7 L110.0,118.0 L110.3,117.8 L108.0,118.4 L106.0,119.4 L107.0,120.7 L108.8,121.3 L110.4,119.6 L110.9,117.9 L108.4,118.7 L106.0,119.6 L107.5,118.2 L109.6,116.7 M60.6,72.0 L60.3,73.6 L59.8,75.9 L59.4,78.5 L59.5,81.2 L59.7,83.6 L60.3,86.4 L61.2,89.3 L62.4,91.7 L62.8,92.8 L61.8,92.2 L59.8,89.9 L58.3,88.3 M35.0,75.5 L36.2,75.8 L38.0,75.7 L40.1,75.8 L42.3,76.2 L44.5,77.0 L46.8,77.7 L48.9,78.0 L50.9,78.4 L52.9,79.0 L54.9,79.6 L56.9,80.1 L59.0,80.4 L61.0,80.6 L62.9,81.0 L64.9,81.3 L67.0,81.3 L69.0,80.7 L70.9,80.0 L72.9,79.3 L74.9,79.0 L76.9,78.9 L78.9,79.0 L81.0,79.4 L82.9,80.1 L84.8,81.2 L86.7,82.1 L88.8,82.6 L90.8,82.6 L92.8,82.2 L94.8,81.8 L96.8,81.4 L98.8,80.9 L100.8,80.4 L102.8,80.1 L104.8,80.2 L106.7,80.7 L108.7,81.3 L110.7,81.6 L112.9,82.0 L114.9,82.5 L116.8,83.1 L118.8,83.6 L120.8,83.5 L122.8,83.2 L124.8,82.8 L126.8,82.5 L128.8,82.0 L130.7,81.5 L132.7,81.0 L134.9,81.0 L137.2,81.7 L139.4,82.6 L141.6,83.4 L143.7,84.0 L145.4,84.5 L146.7,84.8 M69.9,72.0 L70.9,73.5 L72.2,75.8 L73.6,78.1 L74.5,80.1 L74.2,82.6 L72.9,84.8 L72.3,85.8 L73.6,85.9 L76.0,85.2 L78.1,83.7 L79.6,81.4 L80.8,78.6 L81.5,76.6 M104.8,127.8 L106.0,128.9 L107.9,130.2 L110.1,131.7 L112.2,133.3 L114.3,134.6 L116.2,136.6 L117.6,138.9 L119.1,140.9 L121.0,142.0 L123.3,141.7 L125.7,140.7 L128.2,139.7 L130.4,139.3 L132.4,140.0 L134.2,141.3 L135.7,142.9 L137.2,144.3 L139.9,145.7 L142.6,146.7 L144.4,147.6 M111.8,111.5 L112.9,112.6 L114.3,114.4 L115.6,116.7 L117.0,119.0 L118.6,120.9 L120.2,122.7 L121.6,124.7 L123.0,126.6 L124.5,128.3 L125.9,130.0 L127.6,132.1 L129.1,134.1 L130.8,135.8 L132.7,137.2 L134.7,138.5 L136.7,139.8 L138.5,140.9 L139.7,141.8 M123.4,106.9 L123.0,108.5 L122.4,110.8 L121.7,113.5 L121.4,116.2 L121.3,118.5 L121.7,121.0 L122.6,123.4 L123.7,125.6 L124.5,127.8 L124.4,130.2 L123.5,132.5 L122.7,134.8 L122.4,137.1 L122.9,139.6 L123.7,142.4 L124.7,144.9 L125.7,146.4 M137.4,116.2 L136.6,117.9 L135.5,120.4 L134.5,123.2 L134.1,125.5 L134.4,128.5 L135.6,131.3 L137.4,132.7 L138.9,131.3 L140.5,128.8 L142.1,127.7 L143.1,129.5 L144.0,132.5 L144.4,134.8 M104.8,97.6 L103.6,98.8 L101.8,100.6 L99.9,102.6 L97.8,104.6 L96.2,106.1 L94.7,107.8 L93.4,109.8 L92.2,111.9 L91.0,113.9 L90.0,115.7 L89.1,117.6 L88.3,119.6 L87.5,121.5 L86.6,123.5 L85.9,125.4 L85.4,128.0 L85.1,130.7 L84.7,133.4 L84.2,135.6 L83.9,137.1 M125.7,85.9 L125.2,87.3 L124.0,89.1 L122.9,91.2 L122.0,93.4 L121.2,95.3 L119.5,97.8 L117.7,99.7 L116.4,101.1 M130.4,134.8 L132.1,136.2 L134.8,137.4 L137.4,138.0 L139.8,137.9 L142.2,137.0 L144.4,136.0 L147.2,134.1 L149.0,132.5 M140.3,132.7 L137.9,132.7 L135.6,133.2 L136.1,135.8 L136.9,137.9 L135.7,136.1 L134.4,133.7 L134.3,132.5 L134.9,132.4 L136.4,134.5 L138.2,136.5 L140.2,135.7 L141.4,134.3 L139.8,134.1 L138.0,134.3 L138.8,134.9 L139.4,135.5 L136.7,135.9 L134.4,136.1 L136.8,136.3 L139.8,136.4" fill="none" stroke="#00ee22" stroke-width="1.55" stroke-linejoin="round" stroke-linecap="round"/>
<path d="M193.0,41.4 L194.5,41.7 L196.6,41.9 L199.1,41.8 L201.7,41.8 L204.2,41.8 L206.2,41.7 L208.3,41.4 L210.5,41.2 L212.7,41.2 L214.9,41.2 L217.0,41.2 L219.2,41.1 L221.4,41.1 L223.6,41.3 L225.8,41.7 L227.9,42.0 L229.8,42.1 L232.3,42.2 L234.6,42.3 L236.9,42.2 L239.4,42.0 L241.3,41.8 L243.2,41.8 L245.1,42.0 L247.2,42.3 L249.6,42.5 L252.2,42.6 L254.0,42.6 L255.9,42.6 L258.0,42.6 L260.2,42.3 L262.4,42.0 L264.6,41.8 L266.9,41.9 L269.0,42.1 L271.1,42.1 L273.0,42.0 L275.2,41.9 L277.3,42.0 L279.4,42.0 L281.3,41.9 L283.2,41.8 L285.1,41.8 L287.0,42.0 L289.0,42.3 L291.0,42.5 L293.0,42.6 L295.0,42.6 L297.0,42.7 L299.0,42.8 L301.0,42.9 L303.0,42.9 L305.0,42.8 L307.1,42.8 L309.3,42.8 L311.5,42.8 L313.7,42.6 L315.8,42.2 L317.8,41.9 L319.5,41.8 L321.0,41.8 L323.9,42.6 L325.8,43.7 L327.7,44.0 L329.8,44.5 L332.0,44.8 L333.8,44.8 L336.2,44.1 L337.9,43.7 L339.1,45.2 L340.3,46.9 L342.8,47.6 L345.0,47.8 M194.6,43.8 L196.2,43.8 L198.3,44.2 L200.8,44.9 L203.4,45.4 L205.8,45.5 L208.0,45.4 L210.3,45.1 L212.5,44.8 L214.8,44.4 L217.0,44.4 L219.3,44.8 L221.5,45.6 L223.8,46.4 L226.0,46.8 L228.2,47.0 L230.8,46.9 L233.4,46.7 L235.8,46.3 L237.8,46.0 L240.8,45.8 L242.6,45.4 M196.2,55.0 L197.2,54.0 L198.7,52.6 L200.7,51.3 L202.7,50.3 L204.6,49.4 L206.5,48.3 L208.5,47.2 L210.6,46.2 L212.6,45.3 L214.7,44.3 L216.9,43.3 L218.8,42.6 L220.2,42.2 M199.4,58.2 L200.5,57.4 L202.0,56.0 L203.8,54.5 L205.7,53.3 L207.7,52.3 L209.7,51.2 L211.7,49.9 L213.8,48.6 L215.6,47.6 L217.5,46.3 L219.4,45.0 L221.4,44.0 L223.4,43.6 L225.4,44.0 L227.4,44.7 L229.4,45.5 L231.4,46.3 L233.0,47.0 L236.0,48.8 L237.8,50.2 M201.0,47.0 L202.8,49.1 L204.2,51.8 L203.1,54.4 L201.1,56.7 L199.9,58.5 L199.4,59.8 M202.3,53.3 L203.3,55.2 L203.9,56.6 L202.7,55.2 L200.9,53.0 L199.8,51.8 L200.8,53.9 L202.3,56.6 L202.2,57.5 L201.7,57.7 L200.6,57.3 L200.0,56.5 L202.0,55.2 L203.6,54.0 L201.3,53.5 L199.2,53.2 L201.3,52.9 L203.6,53.0 L202.6,54.1 L201.1,55.1 L201.5,54.2 L202.4,53.4 L203.5,54.5 L203.9,55.6 L201.5,55.0 L199.2,54.5 L199.8,55.9 L201.0,57.4 M240.3,44.5 L239.7,44.0 L239.1,43.7 L238.8,44.8 L238.8,45.7 L238.8,44.4 L239.0,43.2 L239.7,44.1 L240.2,45.0 L239.7,44.0 L239.2,43.0 L240.1,44.1 L240.8,45.2 L239.2,44.4 L237.5,43.3 M194.6,45.4 L196.2,44.6 L198.6,43.7 L201.0,43.1 L202.9,43.7 L204.9,45.0 L207.0,46.3 L209.0,46.9 L210.9,46.4 L212.9,45.3 L215.0,44.4 L217.0,44.1 L218.9,44.5 L221.0,45.4 L223.1,46.4 L225.0,46.9 L227.0,46.4 L229.0,45.3 L231.0,44.2 L233.0,43.8 L235.1,44.4 L237.4,45.4 L239.5,46.3 L241.0,47.0 M196.2,51.8 L198.2,50.0 L201.0,48.5 L203.1,49.3 L205.3,51.0 L207.4,51.9 L209.1,51.2 L210.7,49.6 L212.1,47.9 L213.8,46.9 L215.7,47.1 L217.7,48.1 L219.8,49.0 L221.8,49.3 L224.0,48.7 L226.4,47.7 L228.5,46.5 L229.8,45.4 M197.8,57.4 L199.1,55.3 L201.0,53.2 L203.4,54.1 L205.8,55.0 L207.3,52.6 L209.0,50.2 L210.9,50.7 L213.2,51.7 L215.4,51.9 L217.2,50.4 L218.8,48.3 L220.2,47.0 M221.8,42.2 L223.1,44.4 L225.0,46.1 L227.2,44.4 L229.8,42.9 L231.3,44.2 L232.8,46.2 L234.6,47.1 L236.4,46.1 L238.1,44.3 L239.4,43.0 M194.6,42.2 L195.1,43.9 L195.9,46.2 L196.1,48.6 L195.4,50.7 L194.3,52.8 L193.9,55.0 L194.4,56.9 L195.1,58.8 L195.4,61.4 L195.2,63.3 L195.0,65.5 L194.8,67.9 L194.5,70.3 L194.5,72.6 L194.9,74.8 L195.5,77.0 L196.0,79.3 L196.1,81.6 L196.0,83.8 L195.7,86.0 L195.3,88.2 L194.7,90.4 L194.1,92.6 L193.9,95.0 L194.0,97.2 L194.3,99.5 L194.4,102.0 L194.5,104.3 L194.9,106.4 L195.3,108.0 L196.0,109.6 L196.3,111.2 L196.2,112.7 L196.1,114.7 L195.9,117.0 L195.8,119.3 L195.5,121.7 L195.2,124.0 L195.2,126.1 L195.5,128.2 L195.9,130.4 L196.3,132.5 L196.3,134.6 L196.2,136.8 L196.1,138.9 L195.8,141.1 L195.4,143.2 L194.9,145.4 L194.6,147.5 L194.6,149.6 L194.6,152.0 L194.4,154.3 L194.0,156.6 L193.8,158.7 L193.7,160.8 L193.8,163.2 L194.0,165.5 L194.2,167.4 L194.6,168.8 M197.0,63.0 L197.1,64.5 L197.6,66.7 L197.9,69.2 L197.9,71.8 L197.8,74.2 L197.5,76.4 L196.8,78.7 L196.0,80.9 L195.5,83.1 L195.4,85.4 L195.7,87.6 L196.1,89.8 L196.4,92.1 L196.7,94.4 L196.9,96.6 L196.9,99.0 L196.6,101.4 L196.4,103.9 L196.4,106.1 L196.4,108.0 L196.6,110.7 L197.0,112.8 L198.4,115.2 L200.1,117.6 L200.5,119.5 L200.6,121.7 L201.0,124.0 L201.5,125.8 L202.2,127.8 L202.9,129.9 L203.4,132.0 L204.0,134.1 L204.9,136.2 L206.1,138.1 L207.4,139.9 L208.9,141.7 L210.7,143.3 L212.5,144.8 L213.9,146.2 L215.6,148.8 L216.7,151.3 L217.5,153.1 L218.2,155.1 L218.8,157.5 L219.0,159.9 L219.2,162.8 L219.4,165.4 L219.4,167.2 M193.8,79.0 L193.6,80.7 L193.5,83.2 L193.2,86.0 L193.0,88.6 L193.3,91.2 L193.7,94.0 L194.1,96.5 L194.6,98.2 M204.2,43.8 L205.5,45.1 L207.7,46.6 L209.7,48.4 L210.7,50.2 L209.6,52.7 L207.3,54.9 L204.7,56.8 L202.6,58.2 M209.0,42.2 L210.3,43.1 L211.9,44.6 L213.7,46.1 L215.4,46.9 L217.6,46.8 L219.8,46.0 L221.7,45.6 L224.2,47.2 L226.6,48.4 L228.7,47.5 L231.3,45.9 L233.0,44.6 M213.8,48.6 L215.3,48.6 L217.4,48.7 L219.9,48.9 L222.5,49.1 L225.0,49.5 L227.0,49.8 L229.2,50.1 L231.4,50.2 L233.6,50.3 L235.8,50.5 L237.8,50.9 L240.1,51.3 L242.4,51.6 L244.6,51.9 L246.8,52.3 L249.0,52.8 L251.2,53.2 L253.4,53.6 L255.7,54.2 L257.9,55.0 L260.2,55.9 L262.3,56.5 L264.5,57.0 L266.8,57.6 L269.0,58.2 L271.1,58.6 L273.0,58.9 L275.4,59.2 L277.3,59.6 L279.1,60.1 L280.9,60.8 L282.9,61.5 L285.0,62.3 L287.0,63.2 L289.0,63.8 L290.9,64.2 L292.8,64.4 L294.8,64.4 L297.0,64.4 L299.1,64.4 L301.4,64.2 L303.7,63.7 L306.0,63.2 L308.2,62.9 L310.8,63.2 L313.3,63.8 L315.7,64.2 L317.8,64.5 L320.2,64.3 L322.3,63.6 L324.3,62.4 L325.8,61.0 L327.4,59.5 L329.0,58.0 L330.5,56.6 L332.4,54.5 L334.0,52.3 L335.5,50.3 L336.7,48.2 L337.4,46.1 L337.8,44.6 M209.0,55.0 L210.4,55.8 L212.5,57.0 L214.8,58.4 L217.0,59.9 L218.7,60.9 L220.6,61.7 L222.5,62.4 L224.6,63.0 L226.6,63.7 L228.8,64.5 L231.1,65.1 L233.4,65.7 L235.6,66.5 L237.8,67.2 L240.4,67.7 L242.9,67.7 L245.3,67.9 L247.5,68.5 L249.2,69.6 L250.7,71.0 L252.2,72.3 L253.8,73.4 L255.6,74.1 L257.5,74.5 L259.5,74.7 L261.8,75.0 L264.0,75.4 L266.3,76.2 L268.6,77.2 L270.9,78.1 L273.0,79.0 L275.1,80.2 L276.9,81.5 L278.8,82.7 L281.1,83.7 L282.8,84.4 L284.5,85.2 L286.3,86.2 L288.2,87.2 L290.2,88.0 L292.2,88.7 L294.2,89.4 L296.4,90.2 L298.6,90.8 L300.8,91.2 L303.0,91.8 L305.0,92.5 L307.3,93.3 L309.6,93.9 L311.9,94.2 L314.1,94.5 L316.2,95.0 L318.3,95.6 L320.3,96.3 L322.2,96.9 L324.1,97.6 L325.8,98.2 L328.0,98.7 L330.2,98.9 L332.2,98.6 L333.8,98.2 L335.6,96.8 L336.9,95.0 L338.5,92.8 L340.1,90.1 L341.2,88.5 L342.5,86.7 L343.7,84.6 L344.3,82.2 L344.4,80.0 L344.6,77.4 L344.8,74.8 L344.9,72.6 L345.0,71.0 M334.2,97.3 L334.2,97.8 L334.1,98.3 L333.7,98.3 L333.3,98.1 L333.1,98.0 L333.1,97.8 L333.2,97.6 L333.5,97.5 L334.3,98.0 L334.9,98.5 L334.6,98.2 L334.2,97.9 L334.5,98.2 L335.0,98.6 M237.8,51.0 L237.5,52.3 L237.2,54.1 L236.8,56.2 L236.5,58.5 L236.2,60.8 L236.1,63.0 L236.3,65.1 L236.6,67.2 L236.8,69.3 L236.9,71.5 L236.8,73.7 L236.8,75.8 L236.8,77.9 L236.7,80.1 L236.4,82.3 L236.1,84.5 L235.9,86.6 L235.6,88.6 L235.1,91.0 L234.3,93.3 L233.7,95.6 L233.3,97.7 L233.0,99.8 L232.7,102.1 L232.3,104.1 L232.0,106.0 L231.5,108.0 L230.9,109.9 L230.0,111.8 L229.0,113.7 L227.9,115.9 L227.4,117.6 L226.8,119.5 L226.1,121.5 L225.2,123.5 L224.3,125.4 L223.4,127.2 L222.4,129.2 L221.4,131.1 L220.2,132.9 L219.2,134.8 L218.5,136.7 L218.0,138.8 L217.5,140.9 L216.7,142.9 L216.0,144.7 L215.3,146.3 L214.0,149.0 L212.1,151.1 L210.1,152.7 L208.0,154.5 L206.0,156.2 L203.1,158.0 L201.0,159.2 M337.8,43.8 L339.4,44.6 L341.6,45.7 L343.5,46.9 L345.2,48.5 L346.4,50.3 L346.9,52.1 L347.4,54.4 L347.5,56.6 L347.0,58.8 L346.0,60.9 L345.1,63.0 L343.8,65.3 L342.3,67.6 L341.6,69.4 L342.8,71.0 L345.0,71.1 L347.4,69.9 L349.7,68.4 L351.0,67.3 L351.4,66.2 L350.1,65.4 L348.2,65.4 L346.8,66.7 L345.7,68.5 L345.0,70.8 L345.0,72.6 M343.4,48.6 L343.8,50.1 L343.8,52.3 L343.8,54.8 L343.9,57.4 L344.1,59.8 L344.1,62.0 L343.8,64.3 L343.6,66.5 L343.6,68.8 L343.6,71.0 L343.7,73.2 L344.0,75.5 L344.6,77.7 L345.3,79.9 L345.9,82.2 L346.1,84.2 L346.3,86.3 L346.5,88.5 L346.7,90.7 L346.6,92.8 L346.4,95.0 L346.2,97.2 L346.2,99.4 L346.2,101.7 L346.1,103.9 L345.9,106.0 L345.9,108.0 L346.1,110.5 L346.6,112.8 L347.0,115.0 L347.1,117.6 L347.2,119.5 L347.3,121.6 L347.2,123.8 L347.0,126.0 L346.7,128.2 L346.5,130.4 L346.7,132.5 L347.0,134.6 L347.3,136.8 L347.6,138.9 L348.0,141.0 L348.4,143.2 L348.5,145.3 L348.2,147.6 L347.8,149.8 L347.5,151.9 L347.4,154.0 L347.3,156.0 L347.5,158.7 L347.8,161.2 L348.3,163.4 L348.5,165.6 L347.9,168.2 L347.0,170.4 L346.6,172.0 M347.4,50.2 L347.3,51.6 L347.6,53.5 L348.0,55.8 L348.2,58.2 L348.2,60.7 L348.3,63.0 L348.2,65.1 L348.0,67.3 L347.6,69.4 L347.4,71.5 L347.4,73.7 L347.5,75.8 L347.7,77.9 L347.7,80.1 L347.7,82.2 L347.8,84.3 L348.0,86.5 L348.1,88.6 L348.2,90.8 L348.3,93.1 L348.7,95.4 L349.0,97.6 L349.1,99.6 L349.1,101.4 L349.2,104.0 L349.5,105.8 L349.7,108.0 L349.6,110.0 L349.3,112.2 L349.1,114.6 L349.2,117.6 L349.3,119.2 L349.3,121.1 L349.2,123.1 L349.2,125.2 L349.3,127.3 L349.6,129.4 L349.8,131.5 L349.8,133.6 L349.8,135.6 L349.8,137.6 L349.8,139.7 L349.5,141.8 L349.2,143.8 L348.9,145.8 L348.8,147.7 L348.9,149.6 L349.1,152.0 L349.3,154.5 L349.4,157.0 L349.6,159.2 L349.8,161.0 L349.8,162.4 M343.6,46.6 L343.7,46.6 L343.5,46.8 L342.8,48.1 L342.1,49.1 L342.3,48.1 L342.6,46.8 L341.9,47.1 L341.3,47.5 L342.0,46.8 L342.8,46.3 L342.1,47.5 L341.4,48.6 L341.7,47.7 L342.2,46.5 M276.2,97.4 L276.9,97.7 L277.3,98.5 L276.8,99.3 L276.2,99.8 L275.6,99.2 L275.2,98.5 L275.8,97.8 L276.0,97.4 L275.8,98.9 L275.4,101.4 L275.0,103.4 L274.8,105.7 L274.7,108.0 L274.7,110.1 L274.6,112.1 L274.5,114.4 L274.6,116.2 L274.9,118.2 L275.5,120.2 L276.2,122.4 L276.9,124.2 L277.7,126.1 L278.6,128.0 L279.5,129.9 L280.3,131.9 L280.9,133.9 L281.5,135.9 L282.3,137.8 L283.3,139.7 L284.3,141.5 L285.2,143.4 L286.1,145.4 L287.1,147.4 L288.1,149.3 L289.0,151.1 L290.1,153.4 L291.2,155.4 L292.5,157.3 L293.9,159.1 L295.2,161.1 L296.2,163.3 L297.3,165.4 L298.6,167.2 L300.5,169.1 L302.5,170.8 L304.9,172.1 L307.2,172.7 L309.6,173.2 L312.0,173.7 L314.6,174.4 L316.9,174.8 L319.5,174.9 L322.0,175.1 L324.2,175.2 L325.8,175.2 M201.0,124.0 L200.9,125.4 L200.6,127.4 L200.4,129.7 L200.3,132.2 L200.2,134.6 L200.2,136.8 L200.3,139.2 L200.6,141.5 L200.8,143.8 L200.8,146.0 L200.8,148.0 L201.0,150.4 L201.4,152.7 L201.7,154.6 L201.8,156.0 M200.2,157.6 L200.8,154.9 L201.8,152.8 L202.9,154.5 L203.4,156.8 L201.9,157.4 L200.2,157.6 M194.6,168.8 L196.2,169.1 L198.3,170.0 L200.8,171.0 L203.4,171.6 L205.8,172.1 L208.0,172.2 L210.2,171.9 L212.4,171.4 L214.6,171.0 L217.0,171.0 L219.0,171.4 L221.1,171.8 L223.3,172.1 L225.5,172.4 L227.6,172.7 L229.8,172.8 L231.9,172.7 L234.0,172.4 L236.2,172.2 L238.3,172.2 L240.5,172.3 L242.6,172.3 L244.7,172.2 L246.7,172.2 L248.7,172.3 L250.8,172.5 L253.0,172.7 L255.4,172.6 L257.4,172.6 L259.6,172.7 L261.9,172.8 L264.2,172.6 L266.5,172.3 L268.8,172.0 L271.0,171.9 L273.0,171.9 L275.4,172.0 L277.6,172.1 L279.7,172.3 L281.7,172.7 L283.7,172.9 L285.8,172.9 L287.9,172.9 L290.1,172.9 L292.2,173.2 L294.3,173.5 L296.5,173.7 L298.6,173.6 L300.7,173.4 L302.9,173.1 L305.0,172.5 L307.1,171.8 L309.2,171.2 L311.4,170.9 L313.6,171.2 L315.9,171.7 L318.2,172.1 L320.4,172.4 L322.4,172.8 L324.2,172.9 L327.0,172.5 L329.1,171.6 L330.6,171.2 M202.6,168.8 L203.9,168.7 L205.6,168.4 L207.7,168.3 L210.0,168.3 L212.3,168.3 L214.7,168.1 L217.0,168.0 L219.0,168.1 L221.2,168.1 L223.5,167.8 L225.8,167.5 L228.0,167.3 L230.0,167.3 L231.7,167.4 L233.0,167.3 L234.8,165.9 L234.5,164.8 L234.6,165.9 L236.2,167.3 L237.7,167.4 L239.8,167.4 L242.2,167.1 L244.7,166.8 L247.0,166.8 L249.0,167.2 L251.1,168.0 L252.7,169.0 L254.5,169.9 L257.0,170.4 L258.6,170.5 L260.5,170.5 L262.5,170.3 L264.7,170.0 L266.9,169.9 L269.0,169.9 L271.1,170.0 L273.0,169.9 L275.3,169.6 L277.5,169.3 L279.6,169.2 L281.6,169.1 L283.7,168.9 L285.8,168.6 L287.9,168.4 L290.1,168.3 L292.2,168.2 L294.4,167.8 L296.5,167.3 L298.6,167.0 L300.8,167.0 L303.0,167.2 L305.2,167.4 L307.4,167.5 L309.5,167.8 L311.4,168.2 L314.0,168.6 L316.5,168.9 L318.8,169.1 L321.0,169.4 L323.3,169.5 L325.6,169.3 L327.6,169.0 L329.0,168.8 M205.8,160.8 L207.3,160.7 L209.4,160.5 L211.9,160.1 L214.5,159.5 L217.0,159.0 L219.0,158.7 L221.2,158.5 L223.3,158.1 L225.5,157.7 L227.7,157.3 L229.8,156.9 L231.9,156.5 L234.1,156.0 L236.2,155.5 L238.3,155.1 L240.5,154.8 L242.6,154.5 L244.8,154.0 L247.0,153.4 L249.2,152.8 L251.4,152.3 L253.4,151.7 L255.4,151.1 L258.0,150.4 L260.5,149.8 L262.8,149.4 L265.0,149.0 L267.1,148.6 L269.1,148.3 L271.0,148.2 L273.0,148.0 L275.0,147.6 L276.9,147.1 L278.9,146.7 L281.0,146.4 L283.3,146.2 L285.8,145.9 L288.3,145.4 L290.6,145.0 L292.8,144.8 L295.0,144.6 L297.0,144.5 L298.6,144.4 L300.1,144.9 L301.0,145.1 L303.3,144.6 L305.2,143.3 L304.5,140.9 L304.1,139.1 L305.7,139.6 L307.9,141.1 L309.8,142.4 L312.0,143.5 L313.8,144.0 L314.9,143.7 L315.5,142.4 L315.5,140.1 L315.1,137.2 L314.9,136.0 L315.2,137.2 L315.6,139.6 L315.8,142.4 L316.1,144.8 L316.8,147.1 L317.7,149.1 L318.6,151.2 L319.1,153.2 L319.8,155.3 L320.5,157.3 L321.2,159.1 L322.5,161.8 L324.1,164.1 L325.8,165.6 L327.7,167.0 L329.0,168.0 M204.2,164.0 L205.8,163.9 L208.1,163.6 L210.6,163.3 L212.7,163.2 L215.0,162.8 L217.1,162.3 L218.6,162.4 M199.8,170.2 L197.7,170.0 L196.0,169.6 L197.8,168.8 L199.9,168.3 L199.3,169.3 L197.9,169.9 L196.5,167.5 L195.7,165.3 L197.6,167.1 L199.2,169.5 L196.8,169.8 L194.6,169.4 L196.7,168.6 L199.5,168.0 L200.3,168.7 L200.4,169.7 L199.9,170.6 L199.1,170.6 L198.3,167.6 L197.7,165.1 L198.3,167.4 L199.0,170.4 L198.6,170.9 L198.2,170.3 L198.7,168.1 L198.7,166.0 L196.2,166.3 L193.9,167.3 L194.2,168.3 L195.8,168.8 L198.2,167.8 L201.1,166.2 L202.5,165.7 L201.6,166.7 L199.5,168.5 L197.4,170.3 L196.4,171.3 L197.8,170.5 L200.5,168.8 L202.2,167.6 L200.6,168.5 L198.8,169.5 L201.3,168.2 L203.2,167.2 L202.0,167.7 L199.7,168.8 L197.3,169.9 L195.6,170.6 M194.7,169.5 L196.8,169.4 L198.5,169.4 L197.7,169.7 L196.2,169.9 L195.1,170.1 L194.5,169.9 L195.7,168.5 L196.9,167.3 L196.1,167.8 L195.3,168.9 L196.2,169.9 L197.1,171.0 L196.8,171.9 L196.0,172.3 L194.7,170.9 L193.9,169.4 L195.7,169.3 L197.7,169.5 M219.4,156.0 L219.2,157.7 L219.2,160.1 L218.8,162.4 L218.1,164.8 L217.2,167.1 L217.0,168.8 M194.6,160.8 L196.6,162.3 L199.4,164.0 L201.4,164.6 L203.6,165.1 L205.7,165.8 L208.2,166.7 L210.7,167.7 L212.2,168.8 M345.8,124.0 L346.0,125.5 L345.9,127.7 L345.9,130.2 L346.2,132.8 L346.4,135.1 L346.5,136.8 L347.5,139.2 L348.2,140.0 M332.2,156.0 L334.2,155.4 L337.0,154.4 L339.1,153.6 L341.5,152.6 L343.5,151.3 L345.0,149.5 L346.2,147.5 L347.4,146.4 M332.2,156.0 L333.9,156.9 L336.3,158.2 L338.6,159.1 L341.5,159.9 L343.4,160.8 M343.2,168.9 L341.8,168.9 L339.8,168.8 L337.4,168.7 L334.8,168.6 L332.2,168.4 L329.8,168.2 L327.9,167.9 L326.6,167.6 L326.1,164.9 L328.4,163.3 L329.4,164.4 L330.8,166.3 L332.3,168.6 L333.4,170.6 L333.8,171.8 L331.8,171.7 L328.6,170.5 L328.0,169.5 L329.2,169.3 L331.2,169.3 L333.8,169.3 L336.7,169.3 L339.5,169.3 L342.1,169.4 L344.1,169.5 L345.3,169.5 L345.0,170.2 L342.0,170.9 L339.1,171.0 L337.2,170.1 L335.1,168.7 L333.4,167.2 L332.7,166.0 L334.6,164.7 L337.9,163.6 L340.0,163.3 L339.4,164.4 L337.5,166.3 L335.9,168.0 L334.8,170.1 L334.5,170.5 L334.7,168.3 L335.2,164.9 L335.6,162.7 L335.9,162.8 L335.6,164.5 L333.7,166.1 L331.4,168.1 L331.2,169.1 L332.6,168.9 L334.9,168.5 L337.8,167.8 L340.8,167.0 L343.6,166.2 L345.7,165.6 L346.7,165.2 L346.2,165.0 L344.2,164.9 L341.4,165.1 L338.5,165.4 L336.3,165.8 L333.5,167.1 L331.3,168.8 L330.4,170.2 L332.2,171.0 L335.4,171.4 L337.6,171.2 L336.6,169.0 L335.9,166.6 L337.6,166.1 L340.2,165.8 L343.1,165.7 L345.5,165.8 L346.7,166.1 L346.1,167.1 L343.9,168.7 L341.3,170.3 L339.3,171.2 L337.1,171.3 L335.3,170.2 L333.7,168.6 L332.1,166.6 L331.2,165.5 L332.0,167.8 L333.5,169.8 L333.6,168.0 L333.7,165.0 L334.2,163.6 L335.6,164.8 L337.6,167.2 L339.3,169.8 L339.9,171.6 L338.1,172.6 L334.8,172.6 L331.9,171.9 L330.6,170.2 L329.5,167.7 L328.7,165.4 L328.4,164.3 L328.8,165.3 L329.6,167.7 L330.7,170.1 L332.2,171.5 L334.0,171.2 L336.3,169.9 L338.5,168.5 L340.4,167.7 L343.5,168.6 L344.4,169.3 L343.5,168.5 L341.8,167.1 L339.7,165.5 L337.6,164.3 L335.8,163.8 L333.7,164.7 L331.5,166.7 L329.7,168.7 L328.9,169.8 L329.8,168.8 L332.2,166.6 L334.3,165.3 L336.0,166.8 L337.6,168.9 L339.7,169.3 L341.9,169.3 L345.4,169.3 L346.4,169.1 L345.2,169.1 L343.3,169.1 L341.0,169.1 L338.4,169.2 L335.8,169.1 L333.4,169.0 L331.4,168.8 L330.0,168.4 L328.9,166.4 L329.6,163.8 L331.3,161.9 L333.1,161.7 L335.7,162.0 L338.2,162.5 L339.9,162.8 M338.8,168.8 L341.0,168.2 L344.0,167.4 L345.4,166.2 L344.5,165.0 L342.3,163.5 L340.1,162.0 L338.8,161.1 L340.3,160.9 L342.4,161.9 L341.6,163.5 L340.3,165.5 L339.5,167.5 L339.0,168.5 L339.4,166.5 L339.7,164.6 L338.2,166.7 L337.4,168.5 L338.4,167.2 L340.0,165.0 L341.7,162.7 L342.5,161.4 L340.8,162.8 L338.9,164.6 L340.3,162.8 L341.7,161.1 L340.5,162.0 L338.4,163.7 L337.0,165.0 L337.3,166.0 L338.3,165.9 L339.2,163.2 L339.4,161.0 L337.9,162.0 L335.8,164.1 L335.1,165.5 L336.8,165.4 L339.9,164.5 L342.6,164.0 L345.2,164.0 L346.2,164.5 L344.2,165.8 L341.7,167.3 L341.2,169.2 L341.2,169.8 L340.5,168.0 L339.7,165.1 L339.7,163.1 L342.5,163.3 L344.8,164.6 L343.2,165.2 L340.3,165.9 L338.6,166.3 L340.6,166.2 L343.6,165.6 L345.3,164.6 L345.3,163.8 L343.4,163.6 L340.5,163.6 L337.7,163.9 L336.1,164.5 L336.4,166.6 L338.3,169.3 L340.4,170.8 L342.3,170.2 L344.7,168.7 L346.6,166.9 L347.4,165.7 L346.1,165.2 L343.4,165.0 L340.6,165.0 L339.0,164.9 L340.3,164.0 L342.7,163.5 L343.5,163.8 L343.8,164.4 M341.9,161.3 L343.1,162.9 L344.9,165.1 L346.1,166.5 L346.1,165.1 L345.6,163.6 L346.0,165.7 L346.6,167.5 L347.6,164.6 L347.9,161.7 L346.8,163.1 L345.1,165.6 L343.9,166.9 L344.0,165.3 L344.6,162.4 L344.8,160.2 L343.2,160.0 L342.1,160.9 L344.4,162.2 L346.7,163.4 L345.5,163.5 L343.6,163.6 L342.8,164.5 L342.8,165.6 L344.5,166.0 L346.3,166.3 M343.4,160.8 L345.7,158.8 L348.2,157.6 L349.2,159.1 L349.9,161.6 L350.0,164.1 L348.2,166.7 L346.6,168.8 M201.0,164.8 L202.4,164.7 L204.3,164.6 L206.6,164.4 L209.1,164.2 L211.5,163.9 L213.8,163.9 L216.0,164.0 L218.3,164.0 L220.6,163.7 L222.8,163.3 L224.8,163.1 L226.6,163.1 L229.0,163.3 L230.6,163.7 L233.0,163.9 L234.8,163.9 L236.8,163.9 L239.0,163.8 L241.3,163.5 L243.6,163.1 L245.8,163.0 L247.9,163.2 L250.0,163.6 L252.1,163.9 L254.2,164.2 L256.4,164.6 L258.6,165.0 L260.6,165.2 L262.6,165.2 L264.7,165.1 L266.8,165.2 L268.8,165.4 L270.9,165.7 L273.0,165.7 L275.1,165.6 L277.2,165.3 L279.3,165.1 L281.4,164.8 L283.4,164.3 L285.4,163.9 L287.4,163.7 L289.6,163.9 L291.8,164.2 L293.9,164.4 L296.0,164.6 L298.1,164.7 L300.2,164.8 L302.4,165.0 L304.6,165.0 L306.8,164.9 L309.0,165.1 L311.1,165.4 L313.0,165.8 L315.8,166.2 L318.6,166.5 L321.0,166.8 L322.6,167.2 M194.6,148.0 L194.9,149.4 L195.3,151.5 L195.7,153.9 L196.1,156.0 L196.1,158.1 L195.8,160.2 L195.2,162.1 L194.9,164.0 L195.4,166.5 L196.3,168.8 L197.0,170.4" fill="none" stroke="#00ee22" stroke-width="1.55" stroke-linejoin="round" stroke-linecap="round"/>
<path d="M387.0,42.2 L388.2,42.6 L389.9,42.9 L392.0,43.0 L394.3,43.0 L396.6,43.1 L399.0,43.4 L400.8,43.5 L402.8,43.4 L404.8,43.4 L407.0,43.3 L409.1,43.4 L411.1,43.3 L413.1,43.1 L415.0,42.9 L417.3,42.8 L419.5,43.1 L421.6,43.4 L423.6,43.7 L425.7,43.8 L427.8,43.9 L429.9,43.9 L432.0,43.7 L434.1,43.4 L436.2,43.0 L438.4,42.8 L440.6,42.9 L442.6,43.1 L444.5,43.3 L446.6,43.4 L448.6,43.5 L450.7,43.6 L452.8,43.8 L455.0,43.7 L456.9,43.6 L458.9,43.5 L460.9,43.6 L462.9,43.7 L464.9,43.8 L467.0,43.7 L469.0,43.5 L471.0,43.4 L473.0,43.5 L475.0,43.7 L477.0,43.8 L479.0,43.9 L481.0,44.1 L483.0,44.5 L485.0,44.8 L487.0,44.9 L489.0,44.7 L491.0,44.4 L493.0,44.3 L495.0,44.2 L497.0,44.1 L499.0,44.0 L501.0,43.8 L503.0,43.8 L505.1,43.9 L507.2,43.9 L509.4,43.6 L511.6,43.3 L513.7,43.1 L515.7,43.1 L517.5,43.1 L519.0,43.0 L522.1,42.5 L524.1,41.9 L525.4,41.4 M387.8,43.8 L389.1,43.8 L390.9,44.1 L392.9,44.7 L395.1,45.3 L397.5,45.9 L399.9,46.1 L402.2,46.3 L404.1,46.3 L406.2,46.2 L408.2,46.0 L410.3,45.7 L412.3,45.5 L414.4,45.5 L416.3,45.6 L418.2,45.7 L420.5,45.6 L422.7,45.6 L424.8,45.8 L426.9,46.0 L428.9,46.1 L431.0,46.0 L433.1,46.0 L435.3,46.0 L437.5,46.0 L439.7,45.9 L441.8,45.5 L443.8,45.3 L446.1,45.3 L448.3,45.5 L450.5,45.7 L452.7,45.9 L455.0,46.2 L457.0,46.5 L459.0,46.8 L461.1,46.9 L463.2,46.8 L465.5,46.7 L467.8,46.8 L469.6,46.9 L471.6,46.9 L473.6,46.7 L475.6,46.6 L477.7,46.6 L479.7,46.5 L481.8,46.4 L483.8,46.2 L485.8,46.0 L487.8,46.1 L489.8,46.4 L491.8,46.7 L493.8,46.9 L495.8,47.0 L497.8,47.1 L499.8,47.1 L501.9,47.0 L504.0,46.7 L506.1,46.3 L508.3,46.1 L510.4,46.0 L512.4,46.0 L514.2,45.8 L515.8,45.6 L518.6,45.0 L520.8,44.5 L522.6,44.1 L523.8,43.8 M387.0,42.2 L386.2,43.9 L385.0,46.2 L383.9,48.6 L383.2,50.5 L382.6,52.5 L381.9,54.6 L381.2,56.5 L380.7,58.6 L380.5,60.8 L380.3,62.9 L380.0,64.7 L379.0,67.5 L378.2,69.4 M375.0,51.8 L375.6,50.9 L376.6,50.1 L378.0,50.3 L379.0,51.0 L378.9,52.6 L378.2,54.2 L377.0,55.0 L375.8,55.0 L375.3,53.4 L375.0,51.8 M376.6,55.0 L377.0,56.4 L377.2,58.5 L377.2,60.8 L377.1,63.0 L377.1,64.9 L377.0,66.7 L376.9,68.7 L376.7,71.0 L376.5,72.9 L376.4,75.0 L376.3,77.2 L376.0,79.5 L375.7,81.7 L375.5,83.8 L375.7,86.1 L376.1,88.3 L376.5,90.5 L376.7,92.7 L376.7,95.0 L376.6,97.1 L376.5,99.2 L376.2,101.4 L375.9,103.6 L375.7,105.8 L375.8,108.0 L375.9,110.1 L376.0,112.2 L375.8,114.4 L375.7,116.5 L375.7,118.6 L375.8,120.8 L375.8,122.9 L375.9,125.0 L376.1,127.2 L376.5,129.3 L376.8,131.4 L376.9,133.6 L376.6,135.7 L376.2,137.8 L376.0,139.9 L375.9,142.1 L375.7,144.2 L375.7,146.4 L375.9,148.5 L376.4,150.7 L376.9,152.9 L377.1,155.1 L377.2,157.2 L377.2,159.2 L377.2,162.0 L377.1,164.8 L376.8,167.1 L376.6,168.8 M387.8,43.0 L389.3,43.5 L391.4,44.3 L393.8,44.9 L395.8,45.4 L398.7,46.6 L400.7,48.6 L401.3,50.5 L401.6,52.9 L401.4,55.0 L400.5,57.7 L399.8,59.8 M383.0,61.4 L383.9,59.8 L386.2,58.2 L388.1,58.0 L390.5,57.9 L393.1,57.6 L395.8,57.2 L397.9,57.0 L400.1,57.0 L402.3,56.9 L404.6,56.8 L407.0,56.6 L409.1,56.6 L411.2,56.5 L413.4,56.2 L415.6,55.8 L417.7,55.6 L419.8,55.6 L422.1,55.9 L424.4,56.2 L426.6,56.5 L428.8,56.7 L431.0,56.7 L433.2,56.5 L435.4,56.0 L437.6,55.4 L439.8,55.0 L442.2,55.0 L444.3,55.1 L446.5,55.1 L448.7,55.0 L450.9,55.0 L453.0,55.1 L455.0,55.0 L457.6,54.6 L459.9,54.3 L462.2,54.3 L464.6,54.4 L466.7,54.5 L469.0,54.4 L471.2,54.4 L473.5,54.6 L475.8,54.9 L478.1,55.3 L480.4,55.8 L482.6,56.5 L484.8,57.2 L487.0,57.7 L489.5,57.8 L491.9,58.0 L494.2,58.2 L496.6,58.1 L498.5,57.8 L500.4,57.1 L502.4,56.5 L504.3,55.9 L506.3,55.3 L508.2,54.5 L510.2,53.6 L512.1,52.8 L514.0,52.2 L515.8,51.7 L518.4,50.7 L520.7,49.5 L522.2,48.6 M384.6,59.8 L386.1,59.8 L388.2,60.0 L390.7,60.3 L393.3,60.5 L395.8,60.5 L397.8,60.5 L400.0,60.3 L402.1,60.1 L404.3,59.6 L406.4,59.0 L408.6,58.7 L410.7,58.9 L412.9,59.2 L415.0,59.5 L417.1,59.7 L419.3,59.9 L421.4,60.0 L423.6,59.8 L425.7,59.3 L427.8,58.8 L429.9,58.4 L432.1,58.3 L434.2,58.3 L436.4,58.4 L438.6,58.5 L440.9,58.7 L443.1,58.9 L445.1,59.0 L447.0,58.9 L449.2,58.5 L451.0,58.0 L452.9,57.7 L455.0,57.6 L457.0,57.6 L459.2,57.6 L461.6,57.6 L463.9,57.9 L466.2,58.2 L468.5,58.4 L470.8,58.9 L473.0,59.6 L475.2,60.4 L477.4,60.9 L480.1,61.0 L482.9,61.0 L485.3,61.2 L487.0,61.4 M402.2,51.0 L403.6,51.0 L405.6,51.3 L408.0,51.7 L410.5,51.9 L412.9,51.8 L415.0,51.6 L417.6,51.5 L420.1,51.3 L422.4,50.9 L424.6,50.2 L426.9,49.2 L429.3,47.9 L431.3,46.4 L432.6,45.4 M379.8,65.4 L381.2,64.9 L383.1,64.2 L385.5,63.8 L387.8,63.8 L390.1,64.1 L392.5,64.5 L394.9,65.0 L397.4,65.5 L399.8,65.9 L402.3,66.2 L404.7,66.6 L407.0,67.0 L409.3,67.0 L411.6,66.5 L413.6,65.8 L415.0,65.4 M378.2,69.4 L379.7,69.1 L381.8,68.7 L384.1,68.3 L386.2,68.0 L388.6,67.4 L390.8,66.7 L392.7,66.8 L394.1,68.4 L394.8,70.8 L394.9,72.6 L393.8,74.0 L392.7,74.2 L392.9,71.9 L393.4,69.4 M378.2,71.0 L379.0,72.5 L380.1,74.7 L381.5,77.0 L383.1,78.9 L384.4,80.6 L385.6,82.3 L386.6,83.9 L387.8,85.4 L389.4,87.3 L391.0,89.1 L392.5,90.4 L394.8,90.7 L396.6,89.4 L397.2,87.4 L397.7,84.7 L398.2,82.2 L398.0,79.7 L397.2,77.4 L396.6,75.8 M378.2,72.6 L378.2,74.0 L377.8,75.9 L377.5,78.2 L377.4,80.6 L377.5,83.1 L377.5,85.4 L377.5,87.6 L377.7,89.8 L377.9,92.0 L378.1,94.2 L378.1,96.2 L377.9,98.2 L377.9,100.7 L377.8,103.0 L377.7,105.3 L377.5,108.0 L377.5,109.8 L377.5,111.7 L377.7,113.8 L377.7,115.9 L377.7,118.1 L377.8,120.3 L378.1,122.4 L378.5,124.4 L378.7,126.5 L378.8,128.6 L378.8,130.7 L378.8,132.8 L378.9,134.8 L378.9,136.8 L378.8,139.0 L378.6,141.1 L378.5,143.3 L378.5,145.4 L378.5,147.5 L378.4,149.6 L378.3,151.8 L378.4,154.0 L378.7,156.3 L379.1,158.5 L379.4,160.5 L379.7,162.4 L380.3,164.9 L380.9,167.1 L381.3,169.0 L381.4,170.4 M375.0,79.0 L375.2,80.3 L375.1,82.0 L374.9,84.0 L374.8,86.2 L374.8,88.5 L374.6,90.8 L374.5,93.0 L374.5,95.0 L374.7,97.3 L375.0,99.4 L375.1,101.5 L375.0,103.5 L374.9,105.7 L374.9,108.0 L374.9,109.8 L375.0,111.7 L374.9,113.7 L374.9,115.8 L375.1,117.8 L375.3,119.9 L375.3,121.9 L375.1,124.0 L374.9,126.0 L374.7,128.0 L374.7,130.0 L374.7,132.0 L374.7,134.0 L374.6,136.0 L374.7,138.0 L374.8,140.0 L375.0,142.0 L375.0,144.1 L374.9,146.2 L374.9,148.3 L375.1,150.3 L375.4,152.3 L375.7,154.2 L375.9,156.0 L376.1,158.7 L376.3,161.3 L376.5,163.7 L376.5,165.7 L376.6,167.2 M429.4,43.0 L428.9,44.6 L428.1,46.8 L427.2,49.4 L426.3,51.9 L425.5,53.7 L424.5,55.5 L423.3,57.3 L422.1,59.2 L421.2,61.3 L420.6,63.2 L419.9,65.1 L419.0,66.9 L418.1,68.8 L417.4,70.7 L416.7,72.6 L415.9,74.8 L415.0,77.0 L414.3,79.3 L413.9,81.5 L413.6,83.8 L413.0,86.1 L412.2,88.2 L411.4,90.4 L410.8,92.6 L410.2,95.0 L409.6,97.1 L409.2,99.4 L409.0,101.8 L408.9,104.1 L408.5,106.2 L407.9,108.0 L406.6,110.5 L405.3,112.3 L403.7,114.3 L402.6,115.8 L401.3,117.4 L400.0,119.0 L398.8,120.8 L397.6,122.5 L396.3,124.1 L394.8,125.7 L393.4,127.3 L392.1,128.9 L390.9,130.3 L388.8,132.2 L386.6,133.7 L384.7,135.2 L382.9,137.1 L381.1,138.8 L379.8,140.0 M415.0,51.8 L413.9,53.1 L412.8,55.3 L411.6,57.7 L410.2,59.8 L408.8,61.7 L407.3,63.4 L405.9,65.2 L404.7,67.0 L403.5,69.0 L402.7,71.2 L402.4,73.5 L402.3,75.8 L402.3,78.1 L402.4,80.5 L402.7,83.0 L403.1,85.4 L403.5,87.8 L403.9,90.4 L404.6,92.8 L405.4,95.0 L406.1,97.1 L406.5,99.3 L406.7,101.2 L407.0,103.0 L407.8,105.4 L408.5,108.0 L408.8,110.0 L409.1,112.4 L409.7,114.9 L410.5,117.5 L410.9,119.6 L411.3,121.9 L411.8,124.2 L412.5,126.5 L413.3,128.8 L414.0,130.7 L414.8,132.7 L415.8,134.5 L416.9,136.4 L417.7,138.2 L418.3,139.9 L419.1,142.2 L419.8,144.2 L420.7,146.1 L421.4,148.0 L421.8,150.0 L421.9,152.1 L422.1,154.1 L422.4,155.9 L422.6,158.1 L422.7,160.0 L422.8,162.4 L423.3,164.3 L424.1,166.5 L425.1,168.6 L425.8,170.6 L426.2,172.0 M419.8,56.6 L421.2,57.3 L423.2,58.4 L425.4,59.8 L427.5,61.4 L429.4,63.0 L431.0,64.7 L432.4,66.6 L433.8,68.5 L435.1,70.4 L436.0,72.5 L436.3,74.5 L436.0,76.6 L435.5,78.8 L435.0,81.0 L434.6,83.2 L434.1,85.4 L433.7,87.6 L433.4,89.8 L433.2,92.1 L432.8,94.4 L432.0,96.4 L430.9,98.2 L429.6,100.0 L428.1,101.6 L426.4,103.2 L424.6,104.6 L423.0,106.2 L421.5,107.9 L420.0,109.6 L418.3,111.1 L416.5,112.6 L414.8,114.2 L413.5,115.7 L412.3,117.4 L411.0,119.0 L409.7,120.6 L408.4,122.3 L407.1,124.0 L405.8,125.8 L404.4,127.5 L402.8,129.3 L401.4,131.1 L400.2,133.1 L399.1,135.2 L398.0,137.0 L396.8,138.8 L395.6,140.6 L394.5,142.4 L393.3,144.3 L392.0,146.1 L390.8,147.8 L389.6,149.8 L388.6,152.0 L387.4,154.2 L386.0,156.2 L384.7,158.0 L383.7,159.6 L383.0,160.8 M435.8,72.6 L437.2,73.3 L439.4,74.0 L441.8,74.7 L443.9,75.6 L446.1,76.7 L448.2,77.6 L450.1,78.3 L452.6,79.7 L455.0,80.6 L457.1,80.4 L459.3,79.5 L461.3,78.8 L463.8,78.5 L466.2,78.3 L468.2,77.8 L470.2,76.8 L472.6,75.8 L475.0,75.1 L477.8,74.4 L480.4,73.7 L482.2,73.4 M439.0,96.6 L441.2,97.7 L443.8,99.8 L445.8,101.3 L448.0,102.7 L450.2,103.8 L452.6,104.4 L455.0,106.2 L455.9,107.5 L456.9,109.2 L457.8,111.2 L458.5,113.4 L459.3,115.6 L460.3,117.6 L461.4,119.2 L462.8,121.0 L464.0,122.7 L465.3,124.3 L466.6,125.7 L467.9,127.1 L469.4,128.8 L470.8,130.5 L472.3,132.1 L474.1,133.7 L475.8,135.0 L477.4,136.5 L479.0,138.2 L480.6,139.9 L482.2,141.5 L483.8,143.2 L485.3,144.9 L486.8,146.6 L488.5,148.2 L490.3,149.5 L492.0,150.8 L493.5,152.2 L495.0,153.6 L496.6,154.9 L498.2,156.0 L500.2,157.4 L502.1,158.8 L504.1,160.0 L506.2,160.8 L508.4,161.2 L510.7,161.6 L512.8,162.1 L514.2,162.4 M423.0,108.0 L424.5,107.6 L426.5,106.7 L428.8,105.8 L431.0,105.3 L433.0,104.9 L435.0,104.6 L437.0,104.5 L439.0,104.6 L441.0,105.0 L443.0,105.5 L445.1,105.9 L447.0,106.1 L449.3,106.4 L451.4,106.9 L453.4,107.9 L455.0,109.2 L456.6,110.8 L458.1,112.6 L459.6,114.5 L460.9,116.0 L462.4,117.4 L463.8,118.9 L465.1,120.6 L466.3,122.3 L467.5,124.1 L469.0,126.0 L470.4,127.8 L471.7,129.3 L472.6,130.4 M455.0,51.8 L456.7,51.6 L459.0,51.0 L461.7,50.4 L464.6,50.2 L466.6,49.9 L468.6,49.5 L470.8,49.0 L473.0,48.6 L475.3,48.3 L477.4,47.8 L479.5,47.3 L481.6,47.0 L483.8,47.0 L485.9,47.1 L488.1,47.2 L490.2,47.1 L492.3,47.2 L494.5,47.4 L496.6,47.7 L498.7,47.9 L500.9,48.1 L503.0,48.4 L505.2,48.9 L507.4,49.5 L509.7,49.9 L511.9,50.0 L513.9,50.1 L515.8,50.1 L518.3,49.8 L520.6,49.0 L522.4,48.2 L523.8,47.8 M532.6,55.5 L532.5,53.7 L532.4,51.2 L532.1,49.1 L530.8,46.9 L529.4,45.6 L528.3,45.8 L527.4,46.0 L526.5,43.9 L526.1,42.6 L526.6,44.3 L527.5,47.1 L528.1,49.0 L528.1,48.4 L526.9,47.2 L524.1,47.3 L520.7,47.8 L519.2,48.5 L520.4,48.8 L522.9,49.2 L525.8,49.7 L528.4,50.3 L529.8,51.0 L528.9,53.1 L526.2,55.5 L524.9,57.1 L527.0,57.3 L530.5,56.7 L532.6,55.1 L532.5,53.1 L531.7,50.3 L530.5,47.4 L529.2,45.2 L528.0,44.5 L527.2,45.3 L526.3,47.1 L525.3,49.5 L524.3,52.2 L523.5,54.7 L523.0,56.7 L522.7,57.7 L523.6,57.0 L525.7,54.2 L527.4,51.6 L529.4,48.8 L529.5,47.3 L527.8,47.6 L525.1,48.5 L522.2,49.6 L519.9,50.6 L519.1,51.1 L520.0,51.1 L522.1,50.8 L524.7,50.3 L527.5,49.9 L529.9,49.7 L531.2,49.9 L531.1,51.5 L529.7,54.0 L528.0,56.2 L527.3,56.9 L527.9,55.4 L529.1,52.6 L530.5,49.4 L531.8,46.8 L532.4,46.0 L532.3,46.9 L531.9,48.9 L531.4,51.5 L530.7,54.3 L529.9,57.1 L529.2,59.3 L528.5,60.7 L526.4,60.6 L524.1,58.5 L523.1,57.1 L524.6,58.1 L527.4,59.9 L529.5,60.3 L530.0,58.7 L530.2,56.0 L530.0,53.1 L529.5,50.8 L527.8,49.0 L525.4,47.9 L524.0,47.4 L525.1,47.6 L527.4,49.3 L528.6,50.9 L530.0,53.0 L531.0,55.1 L531.1,56.9 L529.7,58.6 L527.1,60.4 L524.7,61.4 L523.5,60.8 L523.7,59.7 L524.2,57.9 L525.0,55.6 L526.0,53.1 L527.0,50.5 L528.1,48.1 L529.1,46.1 L529.9,44.7 L530.4,44.1 L530.8,44.9 L530.9,47.3 L530.8,50.6 L530.5,54.0 L530.3,56.7 L530.3,58.0 L530.3,57.0 L530.5,53.9 L530.6,50.5 L530.7,48.1 M528.5,49.0 L526.4,50.7 L524.6,52.1 L525.6,51.1 L527.0,50.0 L526.9,51.4 L526.6,52.2 L526.8,50.2 L527.2,47.0 L527.0,44.6 L525.3,43.4 L523.5,43.5 L523.5,44.5 L524.0,46.4 L524.2,48.8 L524.4,51.5 L524.6,52.8 L524.6,51.0 L524.7,47.7 L524.8,45.3 L524.7,45.4 L525.2,46.5 L528.0,47.1 L529.8,47.4 L527.9,47.4 L524.7,47.2 L522.3,47.1 M530.2,55.0 L530.4,56.4 L530.6,58.3 L530.8,60.6 L531.3,63.1 L531.8,65.5 L532.1,67.8 L531.9,70.0 L531.6,72.1 L531.2,74.3 L531.0,76.4 L530.9,78.6 L530.9,80.6 L531.2,82.9 L531.9,84.9 L532.8,87.0 L533.3,89.2 L533.4,91.8 L533.3,93.7 L533.3,95.9 L533.3,98.2 L533.3,100.6 L533.1,102.9 L533.0,104.9 L533.0,106.7 L532.8,108.1 L531.3,108.4 L530.3,108.1 L530.2,109.4 L530.1,111.3 L530.2,113.6 L530.6,116.0 L531.0,118.5 L531.1,120.8 L531.0,122.9 L530.9,125.0 L530.7,127.2 L530.4,129.3 L530.1,131.4 L529.9,133.6 L530.2,135.7 L530.7,137.9 L531.2,140.1 L531.5,142.3 L531.7,144.4 L531.9,146.4 L531.8,149.2 L531.4,151.9 L530.9,154.3 L531.0,156.0 M527.0,50.2 L527.0,51.9 L527.6,54.2 L528.0,56.6 L528.2,58.5 L528.4,60.4 L528.6,63.0 L528.8,64.8 L528.8,66.8 L528.8,69.0 L528.9,71.3 L529.2,73.6 L529.6,75.8 L529.8,77.8 L529.8,79.8 L529.9,81.8 L529.9,83.9 L530.1,86.1 L530.1,88.6 L530.0,90.6 L530.0,92.8 L530.2,95.3 L530.3,97.8 L530.0,100.3 L529.7,102.7 L529.6,104.8 L529.7,106.6 L529.8,108.0 L531.2,108.2 L532.6,108.0 L532.7,109.2 L532.9,110.8 L533.1,112.8 L533.3,115.0 L533.3,117.3 L533.1,119.6 L532.9,121.9 L532.9,124.0 L533.0,126.0 L533.0,128.0 L533.0,130.1 L532.9,132.2 L532.8,134.2 L532.8,136.2 L532.8,138.1 L532.6,140.0 L532.4,142.3 L532.6,144.6 L533.0,146.8 L533.3,148.8 L533.5,150.8 L533.5,152.8 L533.4,155.6 L533.1,158.4 L532.7,160.7 L532.6,162.4 M524.6,47.0 L523.9,48.4 L522.8,50.5 L521.8,52.8 L520.8,55.0 L520.1,56.8 L519.5,58.7 L519.3,60.7 L519.3,63.0 L519.2,64.9 L519.2,66.9 L519.1,69.1 L519.3,71.4 L519.6,73.6 L519.7,75.8 L519.8,77.9 L520.1,80.1 L520.4,82.2 L520.7,84.3 L520.7,86.5 L520.5,88.6 L520.3,90.8 L520.3,93.1 L520.3,95.4 L520.1,97.6 L519.9,99.6 L519.8,101.4 L519.7,103.7 L519.5,105.3 L519.1,108.0 L518.8,109.5 L518.5,111.3 L518.4,113.3 L518.4,115.4 L518.5,117.5 L518.4,119.7 L518.3,121.9 L518.3,124.0 L518.4,126.0 L518.3,128.1 L518.2,130.2 L518.2,132.4 L518.4,134.4 L518.7,136.4 L519.0,138.3 L519.2,139.9 L519.4,143.0 L519.9,145.8 L520.3,148.0 L520.6,149.6 M523.0,46.2 L522.1,47.7 L520.9,50.0 L519.8,52.6 L518.9,55.1 L518.2,56.9 L517.3,58.6 L516.5,60.4 L516.0,62.4 L515.7,64.6 L515.5,66.5 L515.4,68.6 L515.3,70.8 L515.3,73.0 L515.3,75.2 L515.1,77.4 L514.8,79.5 L514.5,81.7 L514.4,83.9 L514.4,86.1 L514.4,88.2 L514.3,90.2 L514.1,92.6 L513.9,95.0 L513.7,97.3 L513.4,99.5 L513.2,101.4 L513.3,104.2 L513.8,106.4 L514.3,107.9 L515.1,107.4 L516.0,107.9 L516.0,109.4 L515.7,111.3 L515.5,113.6 L515.3,116.0 L515.0,118.5 L514.8,120.8 L514.8,122.9 L515.1,125.1 L515.5,127.3 L515.7,129.5 L515.7,131.6 L515.8,133.6 L516.1,136.2 L516.5,138.7 L516.9,141.0 L517.2,143.2 L517.8,145.3 L518.3,147.3 L518.8,149.2 L519.2,151.1 L520.0,153.7 L521.2,156.0 L522.2,157.6 M487.8,61.4 L487.9,63.1 L488.7,65.4 L489.3,68.1 L489.5,71.0 L489.5,72.9 L489.5,75.0 L489.3,77.2 L488.9,79.4 L488.6,81.6 L488.4,83.8 L488.4,86.0 L488.1,88.2 L487.7,90.3 L487.1,92.4 L486.6,94.5 L486.2,96.6 L485.7,99.0 L485.2,101.4 L484.8,103.7 L484.5,105.9 L484.0,108.1 L483.0,110.3 L481.7,112.1 L480.3,113.9 L478.9,115.9 L477.8,117.8 L476.5,119.7 L475.2,121.7 L474.0,123.8 L472.8,125.7 L471.5,127.4 L470.0,129.0 L468.6,130.4 L467.3,132.0 L466.1,133.5 L464.5,135.3 L462.9,136.9 L461.3,138.5 L459.9,140.1 L458.1,142.0 L456.2,143.6 L455.0,144.8 M493.4,66.2 L493.2,67.6 L493.1,69.5 L492.9,71.8 L492.4,74.3 L491.8,76.7 L491.6,79.0 L491.5,81.2 L491.4,83.4 L491.3,85.6 L491.2,87.8 L491.2,89.9 L491.2,91.8 L491.1,94.5 L491.1,97.0 L491.2,99.3 L491.7,101.4 L492.4,103.7 L493.0,105.6 L493.5,107.9 L493.8,110.1 L494.2,112.5 L494.6,115.0 L494.8,117.6 L495.2,119.8 L495.8,121.9 L496.6,124.2 L497.2,126.4 L497.5,128.7 L497.8,131.0 L498.1,133.3 L498.3,135.6 L498.5,137.8 L498.8,140.0 L499.5,142.6 L500.3,145.0 L501.0,147.4 L501.4,149.5 L502.3,152.0 L503.4,154.1 L504.5,156.0 L506.3,158.8 L507.8,160.8 M507.8,64.6 L506.2,65.4 L503.9,66.4 L501.4,67.7 L499.7,68.4 L497.8,69.1 L495.8,69.8 L493.8,70.6 L491.9,71.2 L489.4,71.7 L487.0,71.9 L484.6,72.0 L482.2,72.4 L479.6,72.9 L476.9,73.2 L474.4,73.4 L472.6,73.5 L471.1,73.2 L471.0,72.6 M473.3,73.1 L472.9,72.7 L472.6,72.3 L472.9,72.4 L473.3,72.6 L473.2,73.2 L473.0,73.6 L472.6,73.1 L472.2,72.5 L472.1,72.2 L472.1,72.2 L471.8,72.5 L471.8,72.8 L472.4,72.6 L473.1,72.3 M485.9,60.4 L487.3,61.1 L488.6,61.9 L488.8,61.9 L488.6,61.7 L488.2,61.8 L487.9,61.7 L487.9,60.4 L488.0,59.2 L488.1,59.3 L488.0,59.8 L487.5,60.3 L486.9,60.7 L486.7,60.4 L486.6,60.1 M455.0,81.4 L456.7,80.7 L459.2,79.9 L461.5,79.2 L463.8,78.6 L466.1,78.0 L468.0,77.3 L470.1,76.6 L472.6,75.9 L475.0,75.2 L477.8,74.5 L480.4,74.0 L482.2,73.4 M476.6,82.2 L478.0,83.6 L479.1,85.4 L478.4,86.6 L477.4,86.9 L476.4,85.5 L475.9,83.8 L476.9,83.8 L479.0,83.8 L481.0,83.0 L483.3,81.8 L485.4,80.5 L488.2,78.7 L490.2,77.4 M455.0,104.6 L456.7,103.4 L459.1,101.6 L461.5,99.9 L463.1,98.8 L464.8,97.5 L466.3,96.1 L467.6,94.8 L469.4,93.2 L471.1,91.7 L472.7,90.3 L475.4,88.4 L477.4,87.0 M520.6,45.4 L519.6,46.5 L518.5,48.3 L517.4,50.6 L516.3,52.9 L515.1,55.1 L514.1,57.1 L513.2,59.3 L512.4,61.5 L511.5,63.8 L510.8,66.1 L510.5,68.2 L510.4,70.4 L510.3,72.5 L510.0,74.7 L509.7,76.9 L509.3,79.0 L509.1,81.2 L508.8,83.4 L508.4,85.6 L508.2,87.8 L508.1,89.9 L508.0,91.8 L507.7,94.5 L507.0,97.0 L506.4,99.3 L506.1,101.4 L505.5,103.9 L504.8,106.1 L504.5,108.0 L505.4,109.5 L506.3,111.1 L506.3,112.8 L505.9,114.8 L505.2,116.9 L504.4,119.1 L503.8,120.9 L503.3,122.9 L502.8,125.0 L502.1,126.9 L501.4,128.8 L500.7,130.9 L499.9,132.8 L499.0,134.7 L498.1,136.7 L497.5,139.0 L497.2,141.5 L497.1,144.0 L496.7,146.4 L496.0,148.5 L495.2,150.6 L494.3,152.6 L493.5,154.4 L492.2,156.7 L490.9,158.8 L490.0,160.7 L489.2,162.8 L488.6,164.0 M505.6,110.7 L505.6,110.8 L505.7,110.9 L506.0,110.7 L506.3,110.4 L506.7,110.3 L506.8,110.3 L506.1,110.3 L505.4,110.5 L505.7,110.8 L506.2,111.0 L506.2,111.0 L506.1,110.9 L506.0,111.1 L505.9,111.4 M377.7,161.5 L378.3,161.2 L379.1,160.6 L380.5,158.8 L381.6,158.2 L381.6,160.1 L381.3,163.3 L380.9,166.0 L380.5,166.9 L380.3,165.9 L379.9,163.9 L379.6,161.4 L379.2,158.6 L378.9,156.0 L378.7,154.0 L378.7,152.9 L379.3,153.6 L380.4,156.7 L380.9,159.7 L380.0,161.8 L378.4,163.9 L377.7,166.0 L378.2,168.1 L379.4,170.5 L380.7,172.5 L381.8,173.2 L382.7,172.2 L383.6,170.1 L384.3,167.3 L384.5,164.4 L384.2,162.2 L383.6,159.3 L382.8,156.3 L382.0,153.6 L381.3,151.8 L381.0,151.3 L381.0,152.2 L381.2,154.0 L381.5,156.6 L381.9,159.5 L382.3,162.5 L382.7,165.2 L382.9,167.2 L383.0,168.4 L382.6,167.6 L381.9,164.5 L381.1,161.3 L380.6,160.2 L380.4,161.3 L380.4,163.5 L380.5,166.4 L380.6,169.2 L380.7,171.6 L380.9,172.9 L382.1,171.1 L382.9,167.9 L381.2,168.7 L379.5,169.4 L379.7,167.7 L380.5,165.3 L381.5,163.4 L384.0,162.7 L385.6,162.1 L384.4,160.0 L382.0,157.5 L380.3,157.1 L380.0,158.4 L380.0,160.8 L380.1,163.6 L380.2,166.5 L380.4,169.1 L380.5,170.7 L380.5,171.9 L380.8,170.0 L381.4,168.2 L382.2,165.4 L383.1,162.6 L383.7,160.4 L383.8,159.6 L383.2,160.6 L382.1,162.9 L380.8,165.8 L379.4,168.7 L378.3,170.9 L377.6,171.9 L377.6,170.9 L378.1,168.3 L378.9,165.2 L379.5,162.4 L379.7,161.0 L379.0,162.1 L377.7,165.2 L376.8,167.6 M383.5,167.4 L382.6,165.8 L381.3,163.6 L380.2,162.2 L379.0,162.6 L378.4,164.0 L378.4,165.8 L379.1,167.1 L381.0,165.7 L382.7,163.9 L382.5,163.6 L381.7,164.2 L381.1,166.3 L380.5,168.1 L380.0,167.0 L379.9,165.8 L381.0,167.1 L381.9,168.5 L380.8,167.8 L379.3,166.9 L378.3,167.7 L377.8,168.0 L378.7,165.2 L379.9,162.4 M381.4,164.0 L382.2,162.9 L383.1,161.2 L384.2,159.2 L385.4,157.0 L386.6,154.8 L387.6,152.7 L388.6,151.0 L389.7,149.3 L390.8,147.5 L391.7,145.7 L392.4,143.7 L393.2,141.8 L394.1,139.9 L395.0,138.1 L396.0,136.3 L396.9,134.4 L397.8,132.5 L398.8,130.8 L399.9,129.1 L400.8,127.3 L401.8,125.2 L402.7,123.1 L403.8,121.2 L405.0,119.4 L406.1,117.7 L407.0,116.0 L408.1,113.6 L409.1,111.4 L409.9,109.4 L410.2,108.0 M379.8,140.0 L381.0,138.8 L382.9,137.1 L384.7,135.3 L386.6,133.6 L388.6,132.0 L390.9,130.3 L392.3,129.0 L393.6,127.5 L394.9,125.8 L396.2,124.1 L397.5,122.5 L398.8,120.9 L400.1,119.1 L401.3,117.3 L402.5,115.7 L403.7,114.3 L405.3,112.0 L406.4,109.7 L407.0,108.0 M383.0,156.0 L383.8,154.8 L384.6,152.9 L385.6,150.8 L386.9,148.6 L388.3,146.6 L389.4,144.8 L390.7,143.0 L392.0,141.4 L393.3,140.0 L394.5,138.5 L395.8,136.8 L397.1,135.0 L398.6,133.4 L400.4,132.0 L402.2,130.5 L403.9,128.9 L405.4,127.5 L406.9,126.2 L408.6,124.9 L410.2,123.5 L411.7,122.0 L413.2,120.6 L414.9,119.3 L416.7,118.0 L418.4,116.8 L420.0,115.4 L421.5,114.0 L423.0,112.8 L425.3,111.3 L427.6,109.8 L429.5,108.6 L431.0,108.0 M408.6,125.6 L409.7,127.4 L411.7,129.7 L413.4,132.0 L414.6,134.1 L415.8,136.2 L416.8,138.3 L417.5,140.7 L417.8,143.2 L418.2,144.8 M455.0,124.0 L453.7,123.0 L451.6,121.9 L449.3,120.5 L447.0,119.3 L445.1,118.5 L443.2,117.9 L441.3,117.1 L439.4,116.3 L437.5,115.7 L435.0,115.3 L432.5,115.0 L430.1,114.7 L427.8,114.5 L425.6,114.7 L423.5,115.2 L421.5,115.8 L419.8,115.9 L417.0,115.1 L415.0,114.4 M455.0,146.4 L453.6,147.4 L451.5,148.4 L449.2,149.8 L447.0,151.2 L445.2,152.1 L443.3,152.8 L441.3,153.4 L439.4,154.0 L437.4,154.5 L434.9,155.0 L432.4,155.3 L429.9,155.5 L427.8,155.9 L425.2,156.0 L422.9,155.7 L421.4,155.2 M422.1,157.8 L422.7,157.9 L423.1,158.1 L422.2,158.2 L421.3,157.9 L421.4,156.5 L421.9,155.3 L422.6,155.9 L423.1,156.9 L422.5,157.2 L421.9,157.1 L422.3,156.7 L422.9,156.2 L422.7,155.9 L422.3,155.7 M383.0,172.0 L384.2,172.2 L385.9,172.2 L387.8,172.3 L390.0,172.5 L392.3,172.5 L394.6,172.4 L396.9,172.4 L399.0,172.6 L401.0,172.9 L403.0,173.2 L405.0,173.4 L407.0,173.4 L409.0,173.4 L411.0,173.5 L413.0,173.6 L415.0,173.5 L417.0,173.3 L419.0,173.3 L421.0,173.3 L423.0,173.4 L425.0,173.3 L427.0,173.1 L429.0,172.8 L431.0,172.7 L433.1,172.8 L435.2,172.9 L437.4,172.9 L439.5,173.1 L441.6,173.3 L443.6,173.7 L445.4,173.9 L447.0,173.8 L449.5,173.5 L451.4,173.1 L453.1,172.9 L455.0,172.7 L457.3,172.5 L459.7,172.2 L462.2,172.1 L464.6,172.2 L466.9,172.5 L469.2,172.8 L471.6,173.1 L474.2,173.4 L476.1,173.5 L478.2,173.6 L480.4,173.4 L482.6,173.2 L484.8,173.1 L487.0,173.0 L489.1,172.7 L491.3,172.3 L493.4,172.0 L495.5,172.0 L497.7,172.1 L499.8,172.2 L502.0,172.2 L504.2,172.3 L506.4,172.5 L508.6,172.7 L510.7,172.7 L512.6,172.6 L515.4,172.5 L518.2,172.5 L520.6,172.4 L522.2,172.0 M387.8,168.8 L389.3,169.3 L391.4,169.5 L393.9,169.6 L396.5,169.9 L399.0,170.3 L401.0,170.6 L403.1,170.8 L405.3,170.9 L407.5,171.1 L409.6,171.3 L411.8,171.3 L413.9,171.3 L416.0,171.3 L418.1,171.5 L420.2,171.8 L422.4,172.1 L424.6,172.1 L426.6,172.0 L428.6,171.9 L430.6,171.8 L432.6,171.6 L434.7,171.2 L436.8,171.0 L439.0,171.0 L440.9,171.2 L443.0,171.4 L445.0,171.5 L447.1,171.5 L449.2,171.5 L451.2,171.6 L453.1,171.8 L455.0,171.9 L457.4,172.1 L459.5,172.6 L461.6,173.2 L463.6,173.9 L465.7,174.3 L467.8,174.5 L469.9,174.6 L472.1,174.8 L474.2,175.0 L476.3,175.1 L478.5,175.1 L480.6,175.1 L482.7,175.2 L484.9,175.0 L487.0,174.6 L489.1,174.0 L491.2,173.6 L493.4,173.4 L495.5,173.5 L497.7,173.7 L499.8,173.9 L501.9,174.2 L504.1,174.5 L506.2,174.6 L508.5,174.5 L510.9,174.0 L513.4,173.8 L515.7,173.8 L517.6,173.7 L519.0,173.6 M387.8,164.0 L389.3,163.7 L391.3,163.2 L393.6,162.7 L395.8,162.4 L397.9,162.6 L400.1,163.3 L402.1,164.3 L403.8,164.9 L406.4,164.3 L408.6,163.3 L410.6,163.4 L412.8,163.9 L415.0,164.0 L417.3,163.4 L419.7,162.7 L421.4,162.4 M387.8,160.8 L389.1,159.6 L390.8,157.7 L392.7,156.1 L394.5,154.8 L396.6,153.6 L398.9,152.6 L401.1,152.1 L403.5,152.1 L406.0,152.2 L408.6,152.2 L410.7,152.2 L413.0,152.5 L415.2,152.9 L417.5,153.2 L419.8,153.4 L422.1,153.6 L424.4,154.0 L426.6,154.3 L428.8,154.4 L431.0,154.4 L433.4,154.6 L435.6,155.0 L437.9,155.4 L440.6,155.9 L442.5,156.3 L444.5,156.9 L446.6,157.6 L448.9,158.0 L451.1,158.3 L453.2,158.6 L455.0,159.0 L457.8,159.8 L460.1,160.4 L462.3,161.0 L464.6,161.7 L466.9,162.5 L469.4,163.1 L471.8,163.4 L474.2,163.7 L476.6,164.1 L479.0,164.5 L481.4,164.7 L483.8,164.9 L486.4,165.1 L489.2,165.4 L491.7,165.4 L493.4,165.6 M515.7,165.8 L517.4,166.1 L519.9,166.6 L522.9,167.1 L525.7,167.7 L528.0,168.2 L529.2,168.7 L528.2,170.0 L525.0,171.2 L522.4,170.8 L521.7,169.1 L521.1,166.2 L520.8,163.0 L520.7,160.4 L520.8,159.1 L521.6,160.2 L522.9,163.2 L524.1,166.3 L524.7,167.4 L524.5,166.1 L524.0,163.3 L523.2,160.0 L522.3,157.3 L521.3,156.3 L520.3,157.1 L518.9,159.1 L517.5,161.7 L516.2,164.5 L515.3,166.9 L515.1,168.4 L516.6,169.2 L519.4,168.9 L522.3,168.2 L523.9,167.7 L522.3,167.1 L520.1,166.2 L522.6,164.8 L524.7,162.8 L523.3,161.5 L520.6,159.9 L518.2,158.3 L517.2,157.0 L518.3,155.8 L520.7,154.3 L523.4,153.1 L525.8,152.6 L527.0,153.3 L526.9,154.4 L526.3,156.1 L525.4,158.4 L524.4,160.8 L523.2,163.4 L522.1,165.8 L521.1,167.8 L520.5,169.3 L520.3,170.2 L520.9,170.0 L522.2,168.6 L524.0,166.5 L525.7,164.1 L527.1,161.8 L527.5,160.1 L526.1,158.3 L523.2,156.6 L520.4,155.4 L519.6,154.9 L520.6,155.0 L522.5,155.4 L525.0,156.0 L527.7,156.8 L530.2,157.7 L532.1,158.7 L533.0,159.8 L532.6,161.4 L531.1,163.4 L528.9,165.6 L526.7,167.7 L524.8,169.3 L523.9,170.3 L525.1,169.8 L527.9,167.7 L529.2,165.9 L527.9,165.1 L525.5,164.5 L522.9,164.1 L520.9,163.9 L519.1,165.2 L518.2,166.2 L516.9,164.2 L517.1,162.5 L518.6,163.1 L521.1,164.4 L523.7,165.9 L525.9,167.1 L526.9,167.7 L525.8,167.2 L523.2,166.0 L520.3,164.4 L518.5,163.0 L518.3,159.9 L520.2,158.2 L521.7,159.1 L523.9,160.7 L526.1,162.7 L527.8,164.5 L528.5,165.6 L527.3,166.0 L524.6,165.7 L521.5,165.1 L519.2,164.2 L517.2,162.3 L515.8,159.9 L514.8,158.3 L513.2,158.4 L514.1,159.7 L515.5,160.1 L517.5,160.5 L519.9,161.0 L522.5,161.5 L525.1,162.0 L527.3,162.5 L529.0,163.0 L529.9,163.3 L529.3,163.8 L526.5,164.0 L523.3,164.2 L521.2,164.3 L520.9,164.1 L520.8,163.7 L518.8,163.3 L516.1,162.9 L514.4,162.6 L514.8,163.0 L516.7,163.5 L519.0,163.5 L521.6,163.4 L523.0,163.9 L522.2,165.4 L520.3,167.6 L518.3,169.5 L517.0,170.1 L516.6,168.6 L516.8,165.7 L517.2,162.6 L517.7,160.4 L519.6,158.6 L520.6,158.7 L519.2,159.7 L516.7,161.4 L514.7,163.0 L514.4,163.9 L515.7,163.9 L518.0,163.6 L521.0,163.1 L524.1,162.5 L526.8,161.8 L528.8,161.2 L529.5,160.7 L528.8,160.3 L527.3,159.9 L525.0,159.5 L522.3,159.1 L519.6,158.8 L517.0,158.5 L514.8,158.2 L513.3,158.0 M526.1,158.2 L524.2,159.0 L522.4,160.4 L521.9,163.2 L522.5,164.9 L523.9,163.6 L525.8,161.1 L527.6,158.8 L528.3,157.9 L527.4,159.0 L525.6,161.1 L523.5,163.7 L521.7,166.0 L520.9,167.3 L522.6,167.0 L525.8,165.2 L527.7,163.8 L525.2,162.9 L521.8,163.0 L520.9,165.7 L521.4,168.1 L523.0,167.6 L525.4,166.2 L527.1,165.5 L527.0,167.1 L526.1,168.4 L526.0,166.2 L525.4,163.4 L523.2,162.1 L521.5,162.1 L522.6,164.0 L524.6,166.6 L525.7,167.7 L525.4,166.4 L524.5,163.8 L523.4,161.2 L522.6,159.4 L521.7,159.2 L522.0,159.8 L524.0,158.9 L526.9,157.7 L528.5,157.7 L528.0,159.0 L526.8,161.1 L525.4,163.5 L524.1,165.5 L523.5,166.5 L524.5,165.4 L526.6,162.8 L528.1,160.8 M457.4,128.8 L459.3,128.3 L462.0,128.1 L464.6,128.2 L466.7,128.4 L468.8,128.9 L471.0,129.7 L472.8,130.6 L474.8,131.6 L477.0,132.5 L479.1,133.4 L481.3,134.0 L483.8,134.3 L486.3,134.3 L488.6,134.4 L490.7,134.9 L492.6,135.6 L494.5,136.2 L496.6,136.6 L498.9,136.9 L501.4,137.2 L503.9,137.6 L506.2,137.8 L508.3,138.1 L510.3,138.6 L512.3,139.3 L514.2,139.9 L516.2,140.4 L518.2,140.9 L520.2,141.3 L522.2,141.7 L524.4,141.8 L526.7,141.5 L528.8,141.0 L530.2,140.8 M456.8,128.4 L457.3,128.8 L457.7,129.1 L457.2,129.1 L456.7,129.0 L456.5,129.0 L456.6,129.3 L456.9,130.1 L457.1,130.7 L456.9,130.1 L456.7,129.5 L457.0,129.8 L457.4,130.3 L457.7,130.4 L457.9,130.4 M455.0,154.4 L456.6,155.0 L459.1,155.3 L461.9,155.5 L464.6,155.9 L466.7,156.2 L469.0,156.6 L471.3,156.9 L473.5,157.3 L475.8,157.8 L478.0,158.2 L480.2,158.3 L482.4,158.4 L484.7,158.6 L487.0,159.1 L489.1,159.5 L491.3,159.8 L493.5,160.1 L495.7,160.4 L497.8,160.8 L499.8,161.0 L502.7,160.9 L505.4,161.0 L507.8,161.4 L509.4,161.6 M455.0,162.4 L456.7,163.0 L459.2,163.4 L462.0,163.7 L464.6,163.9 L466.9,163.8 L469.2,163.4 L471.6,163.0 L474.2,163.2 L476.1,163.7 L478.2,164.3 L480.4,164.7 L482.6,165.2 L484.9,165.8 L487.0,166.3 L489.1,166.7 L491.3,167.0 L493.4,167.3 L495.5,167.7 L497.6,168.1 L499.8,168.2 L502.1,168.1 L504.6,168.1 L507.0,168.3 L509.3,168.6 L511.2,168.8 L512.6,168.8 M499.8,164.0 L501.2,162.2 L503.0,160.8 L505.0,161.5 L506.2,163.2 L504.9,165.2 L503.0,167.1 L501.6,167.9 L500.6,168.0 M511.0,144.8 L510.2,149.6 M498.2,136.8 L500.2,136.7 L503.0,136.6 L505.3,136.8 L507.7,137.4 L509.4,137.6 M440.6,47.6 L441.8,47.8 L443.3,48.5 L445.1,49.1 L447.2,49.6 L449.4,50.1 L451.8,50.5 L454.2,50.8 L456.6,50.7 L458.4,50.5 L460.2,50.3 L462.2,50.1 L464.3,49.9 L466.4,49.4 L468.5,48.8 L470.6,48.1 L472.7,47.6 L474.8,47.3 L476.9,47.0 L479.0,46.9 L481.1,46.9 L483.1,47.3 L485.2,47.8 L487.2,48.2 L489.3,48.5 L491.5,48.7 L493.5,49.1 L495.5,49.5 L497.5,49.9 L499.5,50.1 L501.4,50.2 L503.8,50.1 L506.3,50.0 L508.8,49.5 L511.2,48.7 L513.5,47.9 L515.7,47.5 L517.7,47.1 L519.3,46.7 L520.6,46.4 M447.0,53.4 L448.3,53.4 L449.9,53.2 L451.9,52.8 L454.0,52.4 L456.4,52.1 L458.8,51.7 L461.3,51.4 L463.8,51.3 L466.2,51.6 L468.1,51.8 L470.1,52.1 L472.2,52.2 L474.3,52.5 L476.4,52.9 L478.5,53.3 L480.6,53.6 L482.7,53.9 L484.7,54.3 L486.7,54.7 L488.6,55.0 L491.0,54.9 L493.4,54.4 L495.9,54.0 L498.4,53.7 L500.7,53.3 L502.9,52.9 L504.9,52.6 L506.5,52.4 L507.8,52.1 M447.0,157.1 L448.3,157.1 L449.9,157.5 L451.8,157.8 L453.9,158.2 L456.2,158.6 L458.6,159.1 L461.1,159.6 L463.7,159.7 L466.2,159.6 L468.1,159.4 L470.2,159.3 L472.3,159.3 L474.5,159.1 L476.7,158.9 L479.0,158.7 L481.3,158.6 L483.5,158.4 L485.7,158.0 L487.8,157.6 L489.9,157.5 L491.8,157.6 L494.3,157.9 L496.9,158.2 L499.4,158.5 L501.8,159.0 L504.1,159.4 L506.3,159.7 L508.2,159.9 L509.8,160.1 L511.0,160.6 M440.6,173.7 L441.7,173.7 L443.1,173.7 L444.6,173.8 L446.3,173.8 L448.1,173.8 L450.1,173.8 L452.2,173.9 L454.4,174.2 L456.6,174.4 L459.0,174.3 L461.3,174.2 L463.7,174.1 L466.0,174.2 L468.4,174.2 L470.7,174.2 L472.9,174.3 L475.0,174.5 L477.1,174.6 L479.0,174.6 L481.2,174.3 L483.4,174.1 L485.6,174.0 L487.7,174.1 L489.9,174.1 L492.0,174.0 L494.1,174.0 L496.2,174.0 L498.2,174.0 L500.2,173.8 L502.2,173.5 L504.0,173.2 L505.9,173.1 L507.6,173.1 L509.4,173.2 L511.0,173.2 L513.8,173.0 L516.5,172.8 L519.1,172.7 L521.5,172.5 L523.7,172.1 L525.7,171.9 L527.5,171.8 L529.0,171.8 L530.2,171.8 M443.8,165.4 L444.9,165.6 L446.3,165.8 L447.9,166.0 L449.7,166.2 L451.7,166.2 L453.8,166.4 L456.0,166.7 L458.2,167.2 L460.5,167.6 L462.8,167.9 L465.2,168.0 L467.5,168.1 L469.7,168.3 L471.9,168.4 L473.9,168.3 L475.8,168.4 L478.2,168.6 L480.6,168.7 L482.9,168.5 L485.2,168.0 L487.4,167.6 L489.6,167.3 L491.7,167.0 L493.8,166.6 L495.8,166.3 L497.8,166.2 L499.6,166.2 L501.4,166.3 L504.0,166.3 L506.5,166.3 L508.8,166.5 L511.0,167.0 L513.0,167.6 L514.8,168.0 L516.2,168.3 L517.4,168.6 M376.6,69.4 L376.6,70.7 L377.0,72.2 L377.4,74.0 L377.6,76.0 L377.8,78.2 L378.1,80.6 L378.4,83.0 L378.5,85.5 L378.6,88.0 L378.8,90.4 L379.2,92.8 L379.4,95.0 L379.3,97.2 L379.0,99.3 L378.7,101.5 L378.4,103.6 L378.1,105.8 L377.7,108.0 L377.3,110.1 L377.2,112.3 L377.2,114.4 L377.0,116.5 L376.8,118.6 L376.5,120.6 L376.5,122.8 L376.7,125.0 L377.0,127.1 L377.3,129.3 L377.7,131.4 L378.2,133.4 L378.7,135.4 L379.1,137.4 L379.3,139.3 L379.4,141.2 L379.6,143.0 L379.9,145.4 L380.3,147.8 L380.6,150.2 L380.8,152.4 L381.1,154.4 L381.3,156.3 L381.5,157.8 L381.4,159.0 M531.8,59.8 L532.1,61.0 L532.1,62.6 L532.1,64.4 L532.2,66.4 L532.5,68.7 L532.7,71.0 L532.8,73.4 L533.1,75.9 L533.5,78.4 L533.6,80.8 L533.4,83.2 L533.2,85.4 L533.1,87.5 L533.1,89.7 L532.9,91.8 L532.6,93.9 L532.4,96.1 L532.2,98.2 L531.9,100.4 L531.6,102.5 L531.1,104.6 L530.7,106.7 L530.7,108.9 L530.8,111.0 L531.0,113.1 L531.2,115.3 L531.4,117.5 L531.8,119.6 L532.2,121.8 L532.4,124.0 L532.6,126.2 L532.9,128.3 L533.4,130.4 L533.9,132.5 L534.1,134.6 L534.2,136.6 L534.1,138.8 L534.0,141.2 L533.8,143.5 L533.4,145.9 L533.0,148.2 L532.8,150.5 L532.8,152.7 L532.6,154.6 L532.4,156.4 L532.1,157.8 L531.8,159.0" fill="none" stroke="#00ee22" stroke-width="1.55" stroke-linejoin="round" stroke-linecap="round"/>
<line x1="33.30" y1="64.40" x2="149.00" y2="64.40" stroke="#111" stroke-width="1.55" stroke-dasharray="6 4.68" stroke-linecap="butt"/>
<line x1="149.00" y1="64.40" x2="149.00" y2="151.80" stroke="#111" stroke-width="1.55" stroke-dasharray="6 4.68" stroke-linecap="butt"/>
<line x1="149.00" y1="151.80" x2="33.30" y2="151.80" stroke="#111" stroke-width="1.55" stroke-dasharray="6 4.68" stroke-linecap="butt"/>
<line x1="33.30" y1="151.80" x2="33.30" y2="64.40" stroke="#111" stroke-width="1.55" stroke-dasharray="6 4.68" stroke-linecap="butt"/>
<line x1="215.20" y1="64.40" x2="330.20" y2="64.40" stroke="#111" stroke-width="1.55" stroke-dasharray="6 4.68" stroke-linecap="butt"/>
<line x1="330.20" y1="64.40" x2="330.20" y2="151.80" stroke="#111" stroke-width="1.55" stroke-dasharray="6 4.68" stroke-linecap="butt"/>
<line x1="330.20" y1="151.80" x2="215.20" y2="151.80" stroke="#111" stroke-width="1.55" stroke-dasharray="6 4.68" stroke-linecap="butt"/>
<line x1="215.20" y1="151.80" x2="215.20" y2="64.40" stroke="#111" stroke-width="1.55" stroke-dasharray="6 4.68" stroke-linecap="butt"/>
<line x1="397.40" y1="64.40" x2="513.30" y2="64.40" stroke="#111" stroke-width="1.55" stroke-dasharray="6 4.68" stroke-linecap="butt"/>
<line x1="513.30" y1="64.40" x2="513.30" y2="151.80" stroke="#111" stroke-width="1.55" stroke-dasharray="6 4.68" stroke-linecap="butt"/>
<line x1="513.30" y1="151.80" x2="397.40" y2="151.80" stroke="#111" stroke-width="1.55" stroke-dasharray="6 4.68" stroke-linecap="butt"/>
<line x1="397.40" y1="151.80" x2="397.40" y2="64.40" stroke="#111" stroke-width="1.55" stroke-dasharray="6 4.68" stroke-linecap="butt"/>
<rect x="4.0" y="30.9" width="174.10" height="153.50" fill="none" stroke="#141414" stroke-width="1.65"/>
<rect x="184.7" y="30.9" width="175.90" height="153.50" fill="none" stroke="#141414" stroke-width="1.65"/>
<rect x="366.4" y="30.9" width="177.00" height="153.50" fill="none" stroke="#141414" stroke-width="1.65"/>
<text x="17.00" y="17.60" font-size="21" text-anchor="start" style="stroke-width:0.4px">A.</text>
<text x="91.00" y="205.00" font-size="14" text-anchor="middle" >Control</text>
<text x="273.70" y="205.00" font-size="14" text-anchor="middle" >D-Gal</text>
<text x="454.60" y="205.00" font-size="14" text-anchor="middle" >OM</text>
</g>
<g>
<rect x="78.40" y="286.50" width="38.80" height="106.80" fill="#0000ff"/>
<line x1="97.80" y1="281.20" x2="97.80" y2="287.00" stroke="#0000ff" stroke-width="1.4" stroke-linecap="butt"/>
<line x1="88.40" y1="281.20" x2="107.20" y2="281.20" stroke="#0000ff" stroke-width="1.4" stroke-linecap="butt"/>
<rect x="137.00" y="325.00" width="39.00" height="68.30" fill="#ff0000"/>
<line x1="156.60" y1="308.60" x2="156.60" y2="325.50" stroke="#ff0000" stroke-width="1.4" stroke-linecap="butt"/>
<line x1="147.00" y1="308.60" x2="166.00" y2="308.60" stroke="#ff0000" stroke-width="1.4" stroke-linecap="butt"/>
<rect x="195.60" y="296.40" width="39.40" height="96.90" fill="#00c000"/>
<line x1="215.20" y1="283.60" x2="215.20" y2="296.90" stroke="#00c000" stroke-width="1.4" stroke-linecap="butt"/>
<line x1="205.40" y1="283.60" x2="224.80" y2="283.60" stroke="#00c000" stroke-width="1.4" stroke-linecap="butt"/>
<line x1="59.00" y1="261.60" x2="59.00" y2="394.05" stroke="#0a0a0a" stroke-width="1.5" stroke-linecap="butt"/>
<line x1="58.25" y1="393.30" x2="255.00" y2="393.30" stroke="#0a0a0a" stroke-width="1.5" stroke-linecap="butt"/>
<line x1="53.60" y1="393.20" x2="59.00" y2="393.20" stroke="#0a0a0a" stroke-width="1.5" stroke-linecap="butt"/>
<text x="52.10" y="396.40" font-size="9.9" text-anchor="end" >0</text>
<line x1="53.60" y1="367.04" x2="59.00" y2="367.04" stroke="#0a0a0a" stroke-width="1.5" stroke-linecap="butt"/>
<text x="52.10" y="370.24" font-size="9.9" text-anchor="end" >20</text>
<line x1="53.60" y1="340.88" x2="59.00" y2="340.88" stroke="#0a0a0a" stroke-width="1.5" stroke-linecap="butt"/>
<text x="52.10" y="344.08" font-size="9.9" text-anchor="end" >40</text>
<line x1="53.60" y1="314.72" x2="59.00" y2="314.72" stroke="#0a0a0a" stroke-width="1.5" stroke-linecap="butt"/>
<text x="52.10" y="317.92" font-size="9.9" text-anchor="end" >60</text>
<line x1="53.60" y1="288.56" x2="59.00" y2="288.56" stroke="#0a0a0a" stroke-width="1.5" stroke-linecap="butt"/>
<text x="52.10" y="291.76" font-size="9.9" text-anchor="end" >80</text>
<line x1="53.60" y1="262.40" x2="59.00" y2="262.40" stroke="#0a0a0a" stroke-width="1.5" stroke-linecap="butt"/>
<text x="52.10" y="265.60" font-size="9.9" text-anchor="end" >100</text>
<line x1="97.80" y1="393.30" x2="97.80" y2="399.10" stroke="#0a0a0a" stroke-width="1.5" stroke-linecap="butt"/>
<text x="97.80" y="409.00" font-size="9.9" text-anchor="middle" >Control</text>
<line x1="156.60" y1="393.30" x2="156.60" y2="399.10" stroke="#0a0a0a" stroke-width="1.5" stroke-linecap="butt"/>
<text x="156.60" y="409.00" font-size="9.9" text-anchor="middle" >D-Gal</text>
<line x1="215.20" y1="393.30" x2="215.20" y2="399.10" stroke="#0a0a0a" stroke-width="1.5" stroke-linecap="butt"/>
<text x="215.20" y="409.00" font-size="9.9" text-anchor="middle" >OM</text>
<polyline points="97.80,270.80 97.80,264.60 155.40,264.60 155.40,270.80" fill="none" stroke="#0a0a0a" stroke-width="1.35" stroke-linejoin="miter"/>
<polyline points="157.60,270.80 157.60,264.60 215.20,264.60 215.20,270.80" fill="none" stroke="#0a0a0a" stroke-width="1.35" stroke-linejoin="miter"/>
<text x="128.71" y="261.90" font-size="13.80" text-anchor="middle" letter-spacing="0.41" style="stroke-width:0.45px;stroke-linejoin:miter">**</text>
<text x="187.21" y="262.10" font-size="13.80" text-anchor="middle" letter-spacing="0.41" style="stroke-width:0.45px;stroke-linejoin:miter">*</text>
<text transform="translate(30.40,327.20) rotate(-90)" font-size="11.2" text-anchor="middle" >Exploration rate (%)</text>
<text x="17.60" y="245.30" font-size="21" text-anchor="start" style="stroke-width:0.4px">B.</text>
</g>
<g>
<rect x="344.40" y="281.60" width="39.00" height="111.15" fill="#0000ff"/>
<line x1="364.00" y1="274.00" x2="364.00" y2="282.10" stroke="#0000ff" stroke-width="1.4" stroke-linecap="butt"/>
<line x1="354.00" y1="274.00" x2="373.60" y2="274.00" stroke="#0000ff" stroke-width="1.4" stroke-linecap="butt"/>
<rect x="404.00" y="341.00" width="39.60" height="51.75" fill="#ff0000"/>
<line x1="424.00" y1="328.00" x2="424.00" y2="341.50" stroke="#ff0000" stroke-width="1.4" stroke-linecap="butt"/>
<line x1="414.00" y1="328.00" x2="433.40" y2="328.00" stroke="#ff0000" stroke-width="1.4" stroke-linecap="butt"/>
<rect x="463.40" y="305.00" width="40.20" height="87.75" fill="#00c000"/>
<line x1="483.40" y1="291.40" x2="483.40" y2="305.50" stroke="#00c000" stroke-width="1.4" stroke-linecap="butt"/>
<line x1="473.60" y1="291.40" x2="493.20" y2="291.40" stroke="#00c000" stroke-width="1.4" stroke-linecap="butt"/>
<line x1="324.15" y1="258.20" x2="324.15" y2="393.50" stroke="#0a0a0a" stroke-width="1.5" stroke-linecap="butt"/>
<line x1="323.40" y1="392.75" x2="524.00" y2="392.75" stroke="#0a0a0a" stroke-width="1.5" stroke-linecap="butt"/>
<line x1="318.60" y1="392.80" x2="324.15" y2="392.80" stroke="#0a0a0a" stroke-width="1.5" stroke-linecap="butt"/>
<text x="317.20" y="396.00" font-size="9.9" text-anchor="end" >0</text>
<line x1="318.60" y1="348.20" x2="324.15" y2="348.20" stroke="#0a0a0a" stroke-width="1.5" stroke-linecap="butt"/>
<text x="317.20" y="351.40" font-size="9.9" text-anchor="end" >10</text>
<line x1="318.60" y1="303.60" x2="324.15" y2="303.60" stroke="#0a0a0a" stroke-width="1.5" stroke-linecap="butt"/>
<text x="317.20" y="306.80" font-size="9.9" text-anchor="end" >20</text>
<line x1="318.60" y1="259.00" x2="324.15" y2="259.00" stroke="#0a0a0a" stroke-width="1.5" stroke-linecap="butt"/>
<text x="317.20" y="262.20" font-size="9.9" text-anchor="end" >30</text>
<line x1="364.00" y1="392.75" x2="364.00" y2="398.55" stroke="#0a0a0a" stroke-width="1.5" stroke-linecap="butt"/>
<text x="364.00" y="409.30" font-size="9.9" text-anchor="middle" >Control</text>
<line x1="424.00" y1="392.75" x2="424.00" y2="398.55" stroke="#0a0a0a" stroke-width="1.5" stroke-linecap="butt"/>
<text x="424.00" y="409.30" font-size="9.9" text-anchor="middle" >D-Gal</text>
<line x1="483.40" y1="392.75" x2="483.40" y2="398.55" stroke="#0a0a0a" stroke-width="1.5" stroke-linecap="butt"/>
<text x="483.40" y="409.30" font-size="9.9" text-anchor="middle" >OM</text>
<polyline points="363.80,267.60 363.80,261.40 422.40,261.40 422.40,267.60" fill="none" stroke="#0a0a0a" stroke-width="1.35" stroke-linejoin="miter"/>
<polyline points="424.60,267.60 424.60,261.40 483.40,261.40 483.40,267.60" fill="none" stroke="#0a0a0a" stroke-width="1.35" stroke-linejoin="miter"/>
<text x="394.11" y="258.80" font-size="13.80" text-anchor="middle" letter-spacing="0.41" style="stroke-width:0.45px;stroke-linejoin:miter">***</text>
<text x="454.91" y="259.30" font-size="13.80" text-anchor="middle" letter-spacing="0.41" style="stroke-width:0.45px;stroke-linejoin:miter">**</text>
<text transform="translate(300.60,325.60) rotate(-90)" font-size="11" text-anchor="middle" >Distance (m)</text>
<text x="281.00" y="245.30" font-size="21" text-anchor="start" style="stroke-width:0.4px">C.</text>
</g>
<g>
<rect x="75.40" y="487.60" width="37.20" height="100.40" fill="#0000ff"/>
<line x1="94.00" y1="484.40" x2="94.00" y2="488.10" stroke="#0000ff" stroke-width="1.4" stroke-linecap="butt"/>
<line x1="85.00" y1="484.40" x2="103.40" y2="484.40" stroke="#0000ff" stroke-width="1.4" stroke-linecap="butt"/>
<rect x="131.40" y="552.00" width="37.20" height="36.00" fill="#ff0000"/>
<line x1="150.20" y1="531.00" x2="150.20" y2="552.50" stroke="#ff0000" stroke-width="1.4" stroke-linecap="butt"/>
<line x1="141.00" y1="531.00" x2="159.40" y2="531.00" stroke="#ff0000" stroke-width="1.4" stroke-linecap="butt"/>
<rect x="187.40" y="511.00" width="37.20" height="77.00" fill="#00c000"/>
<line x1="206.00" y1="491.40" x2="206.00" y2="511.50" stroke="#00c000" stroke-width="1.4" stroke-linecap="butt"/>
<line x1="196.60" y1="491.40" x2="215.00" y2="491.40" stroke="#00c000" stroke-width="1.4" stroke-linecap="butt"/>
<line x1="57.05" y1="461.80" x2="57.05" y2="588.75" stroke="#0a0a0a" stroke-width="1.5" stroke-linecap="butt"/>
<line x1="56.30" y1="588.00" x2="243.00" y2="588.00" stroke="#0a0a0a" stroke-width="1.5" stroke-linecap="butt"/>
<line x1="51.60" y1="588.00" x2="57.05" y2="588.00" stroke="#0a0a0a" stroke-width="1.5" stroke-linecap="butt"/>
<text x="50.20" y="591.20" font-size="9.5" text-anchor="end" >0</text>
<line x1="51.60" y1="567.07" x2="57.05" y2="567.07" stroke="#0a0a0a" stroke-width="1.5" stroke-linecap="butt"/>
<text x="50.20" y="570.27" font-size="9.5" text-anchor="end" >20</text>
<line x1="51.60" y1="546.14" x2="57.05" y2="546.14" stroke="#0a0a0a" stroke-width="1.5" stroke-linecap="butt"/>
<text x="50.20" y="549.34" font-size="9.5" text-anchor="end" >40</text>
<line x1="51.60" y1="525.21" x2="57.05" y2="525.21" stroke="#0a0a0a" stroke-width="1.5" stroke-linecap="butt"/>
<text x="50.20" y="528.41" font-size="9.5" text-anchor="end" >60</text>
<line x1="51.60" y1="504.28" x2="57.05" y2="504.28" stroke="#0a0a0a" stroke-width="1.5" stroke-linecap="butt"/>
<text x="50.20" y="507.48" font-size="9.5" text-anchor="end" >80</text>
<line x1="51.60" y1="483.35" x2="57.05" y2="483.35" stroke="#0a0a0a" stroke-width="1.5" stroke-linecap="butt"/>
<text x="50.20" y="486.55" font-size="9.5" text-anchor="end" >100</text>
<line x1="51.60" y1="462.42" x2="57.05" y2="462.42" stroke="#0a0a0a" stroke-width="1.5" stroke-linecap="butt"/>
<text x="50.20" y="465.62" font-size="9.5" text-anchor="end" >120</text>
<line x1="94.00" y1="588.00" x2="94.00" y2="593.80" stroke="#0a0a0a" stroke-width="1.5" stroke-linecap="butt"/>
<text x="94.00" y="603.40" font-size="9.5" text-anchor="middle" >Control</text>
<line x1="150.20" y1="588.00" x2="150.20" y2="593.80" stroke="#0a0a0a" stroke-width="1.5" stroke-linecap="butt"/>
<text x="150.20" y="603.40" font-size="9.5" text-anchor="middle" >D-Gal</text>
<line x1="206.00" y1="588.00" x2="206.00" y2="593.80" stroke="#0a0a0a" stroke-width="1.5" stroke-linecap="butt"/>
<text x="206.00" y="603.40" font-size="9.5" text-anchor="middle" >OM</text>
<polyline points="94.00,479.20 94.00,473.00 149.60,473.00 149.60,479.20" fill="none" stroke="#0a0a0a" stroke-width="1.35" stroke-linejoin="miter"/>
<polyline points="151.60,479.20 151.60,473.00 206.00,473.00 206.00,479.20" fill="none" stroke="#0a0a0a" stroke-width="1.35" stroke-linejoin="miter"/>
<text x="122.20" y="470.70" font-size="13.25" text-anchor="middle" letter-spacing="0.40" style="stroke-width:0.45px;stroke-linejoin:miter">***</text>
<text x="176.80" y="470.90" font-size="13.25" text-anchor="middle" letter-spacing="0.40" style="stroke-width:0.45px;stroke-linejoin:miter">*</text>
<text transform="translate(16.60,524.60) rotate(-90)" font-size="10.6" text-anchor="middle" >Exploration rate (%)</text>
<text transform="translate(30.00,524.60) rotate(-90)" font-size="10.4" text-anchor="middle" >(Middle arena)</text>
<text x="17.60" y="446.50" font-size="21" text-anchor="start" style="stroke-width:0.4px">D.</text>
</g>
<g>
<rect x="343.00" y="504.00" width="37.60" height="83.20" fill="#0000ff"/>
<line x1="361.60" y1="484.00" x2="361.60" y2="504.50" stroke="#0000ff" stroke-width="1.4" stroke-linecap="butt"/>
<line x1="352.40" y1="484.00" x2="371.00" y2="484.00" stroke="#0000ff" stroke-width="1.4" stroke-linecap="butt"/>
<rect x="400.00" y="575.00" width="37.70" height="12.20" fill="#ff0000"/>
<line x1="418.80" y1="570.00" x2="418.80" y2="575.50" stroke="#ff0000" stroke-width="1.4" stroke-linecap="butt"/>
<line x1="409.60" y1="570.00" x2="427.60" y2="570.00" stroke="#ff0000" stroke-width="1.4" stroke-linecap="butt"/>
<rect x="456.60" y="535.40" width="38.00" height="51.80" fill="#00c000"/>
<line x1="475.80" y1="513.60" x2="475.80" y2="535.90" stroke="#00c000" stroke-width="1.4" stroke-linecap="butt"/>
<line x1="466.40" y1="513.60" x2="485.00" y2="513.60" stroke="#00c000" stroke-width="1.4" stroke-linecap="butt"/>
<line x1="324.10" y1="458.60" x2="324.10" y2="587.95" stroke="#0a0a0a" stroke-width="1.5" stroke-linecap="butt"/>
<line x1="323.35" y1="587.20" x2="514.00" y2="587.20" stroke="#0a0a0a" stroke-width="1.5" stroke-linecap="butt"/>
<line x1="318.60" y1="587.20" x2="324.10" y2="587.20" stroke="#0a0a0a" stroke-width="1.5" stroke-linecap="butt"/>
<text x="317.20" y="590.40" font-size="9.5" text-anchor="end" >0</text>
<line x1="318.60" y1="544.65" x2="324.10" y2="544.65" stroke="#0a0a0a" stroke-width="1.5" stroke-linecap="butt"/>
<text x="317.20" y="547.85" font-size="9.5" text-anchor="end" >5</text>
<line x1="318.60" y1="502.10" x2="324.10" y2="502.10" stroke="#0a0a0a" stroke-width="1.5" stroke-linecap="butt"/>
<text x="317.20" y="505.30" font-size="9.5" text-anchor="end" >10</text>
<line x1="318.60" y1="459.55" x2="324.10" y2="459.55" stroke="#0a0a0a" stroke-width="1.5" stroke-linecap="butt"/>
<text x="317.20" y="462.75" font-size="9.5" text-anchor="end" >15</text>
<line x1="361.60" y1="587.20" x2="361.60" y2="593.00" stroke="#0a0a0a" stroke-width="1.5" stroke-linecap="butt"/>
<text x="361.60" y="603.00" font-size="9.5" text-anchor="middle" >Control</text>
<line x1="418.80" y1="587.20" x2="418.80" y2="593.00" stroke="#0a0a0a" stroke-width="1.5" stroke-linecap="butt"/>
<text x="418.80" y="603.00" font-size="9.5" text-anchor="middle" >D-Gal</text>
<line x1="475.80" y1="587.20" x2="475.80" y2="593.00" stroke="#0a0a0a" stroke-width="1.5" stroke-linecap="butt"/>
<text x="475.80" y="603.00" font-size="9.5" text-anchor="middle" >OM</text>
<polyline points="361.60,479.60 361.60,473.40 418.00,473.40 418.00,479.60" fill="none" stroke="#0a0a0a" stroke-width="1.35" stroke-linejoin="miter"/>
<polyline points="420.40,479.60 420.40,473.40 475.80,473.40 475.80,479.60" fill="none" stroke="#0a0a0a" stroke-width="1.35" stroke-linejoin="miter"/>
<text x="390.70" y="470.80" font-size="13.25" text-anchor="middle" letter-spacing="0.40" style="stroke-width:0.45px;stroke-linejoin:miter">***</text>
<text x="446.20" y="470.90" font-size="13.25" text-anchor="middle" letter-spacing="0.40" style="stroke-width:0.45px;stroke-linejoin:miter">*</text>
<text transform="translate(288.60,523.00) rotate(-90)" font-size="10.6" text-anchor="middle" >Distance (m)</text>
<text transform="translate(301.60,523.00) rotate(-90)" font-size="10.4" text-anchor="middle" >(Middle arena)</text>
<text x="281.00" y="446.50" font-size="21" text-anchor="start" style="stroke-width:0.4px">E.</text>
</g>
</svg>
</body>
</html>
